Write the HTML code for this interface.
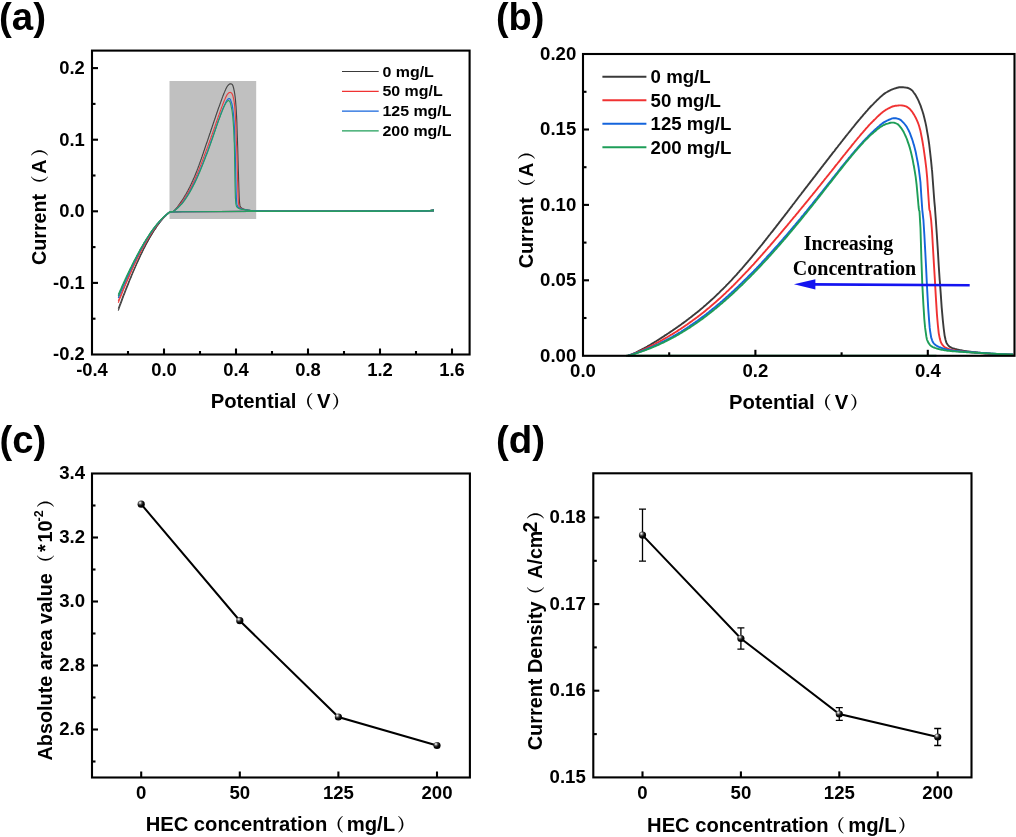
<!DOCTYPE html>
<html lang="en"><head><meta charset="utf-8"><title>Figure</title>
<style>
html,body{margin:0;padding:0;background:#fff}
svg{display:block}
text{white-space:pre}
.p{font-family:"Noto Serif CJK SC","Noto Sans CJK SC",serif;font-weight:700}
</style></head><body>
<svg width="1016" height="837" viewBox="0 0 1016 837">
<defs><radialGradient id="sph" cx="0.35" cy="0.3" r="0.7"><stop offset="0" stop-color="#f4f4f4"/><stop offset="0.12" stop-color="#d0d0d0"/><stop offset="0.34" stop-color="#555"/><stop offset="0.62" stop-color="#080808"/><stop offset="1" stop-color="#000"/></radialGradient>
<clipPath id="clipb"><rect x="583" y="54" width="433" height="303"/></clipPath></defs>
<rect width="1016" height="837" fill="#fff"/>
<text transform="translate(-1.1 29.6) scale(0.975 1)" font-family="'Liberation Sans', 'Noto Sans CJK SC', sans-serif" font-weight="bold" font-size="39.5" text-anchor="start" fill="#000">(a)</text>
<text transform="translate(496.0 29.6) scale(0.96 1)" font-family="'Liberation Sans', 'Noto Sans CJK SC', sans-serif" font-weight="bold" font-size="39.5" text-anchor="start" fill="#000">(b)</text>
<text transform="translate(-0.5 452.6) scale(0.97 1)" font-family="'Liberation Sans', 'Noto Sans CJK SC', sans-serif" font-weight="bold" font-size="39.5" text-anchor="start" fill="#000">(c)</text>
<text transform="translate(496.0 452.7) scale(0.975 1)" font-family="'Liberation Sans', 'Noto Sans CJK SC', sans-serif" font-weight="bold" font-size="39.5" text-anchor="start" fill="#000">(d)</text>
<rect x="169.5" y="81" width="86.7" height="138" fill="#c0c0c0"/>
<path d="M118.3,310.6 L119.2,308.1 L120.1,305.5 L120.5,304.6 L121.1,303.0 L122.0,300.5 L122.7,298.6 L122.9,298.1 L123.8,295.6 L124.8,293.2 L124.9,292.7 L125.7,290.8 L126.6,288.4 L127.2,287.0 L127.6,286.1 L128.5,283.7 L129.4,281.4 L129.4,281.4 L130.3,279.1 L131.3,276.9 L131.6,276.0 L132.2,274.6 L133.1,272.4 L133.8,270.7 L134.0,270.2 L135.0,268.1 L135.9,265.9 L136.1,265.6 L136.8,263.8 L137.8,261.8 L138.3,260.6 L138.7,259.7 L139.6,257.7 L140.5,255.8 L140.5,255.7 L141.5,253.8 L142.4,251.9 L142.7,251.2 L143.3,250.0 L144.2,248.1 L145.0,246.7 L145.2,246.3 L146.1,244.5 L147.0,242.7 L147.2,242.5 L148.0,241.0 L148.9,239.3 L149.4,238.4 L149.8,237.7 L150.7,236.1 L151.6,234.6 L151.7,234.5 L152.6,233.0 L153.5,231.5 L153.8,231.0 L154.5,230.0 L155.4,228.6 L156.1,227.6 L156.3,227.2 L157.2,225.8 L158.2,224.5 L158.3,224.4 L159.1,223.3 L160.0,222.1 L160.5,221.4 L160.9,220.9 L161.9,219.7 L162.7,218.7 L162.8,218.6 L163.7,217.6 L164.7,216.6 L165.0,216.3 L165.6,215.6 L166.5,214.7 L167.2,214.1 L167.4,213.8 L168.4,212.9 L169.3,212.2 L169.4,212.2 L170.2,211.9 L171.1,211.7 L171.6,211.6 L172.1,211.5 L173.4,211.3 L173.6,211.1 L173.8,211.0 L174.0,210.8 L174.2,210.6 L174.4,210.4 L174.6,210.2 L174.7,210.1 L174.8,210.0 L175.0,209.8 L175.2,209.6 L175.4,209.4 L175.6,209.2 L175.8,208.9 L176.0,208.7 L176.0,208.7 L176.2,208.5 L176.4,208.2 L176.6,208.0 L176.8,207.7 L177.0,207.5 L177.2,207.2 L177.3,207.1 L177.4,206.9 L177.6,206.7 L177.8,206.4 L178.0,206.1 L178.2,205.9 L178.4,205.6 L178.6,205.3 L178.6,205.3 L178.8,205.0 L179.0,204.7 L179.2,204.5 L179.4,204.2 L179.6,203.9 L179.8,203.6 L179.9,203.5 L180.0,203.3 L180.2,203.0 L180.4,202.7 L180.6,202.4 L180.8,202.1 L181.0,201.8 L181.2,201.6 L181.3,201.5 L181.5,201.2 L181.7,200.9 L181.9,200.6 L182.1,200.3 L182.3,200.0 L182.5,199.7 L182.5,199.6 L182.7,199.4 L182.9,199.1 L183.1,198.7 L183.3,198.4 L183.5,198.1 L183.7,197.8 L183.8,197.5 L183.9,197.5 L184.1,197.1 L184.3,196.8 L184.5,196.5 L184.7,196.1 L184.9,195.8 L185.1,195.5 L185.1,195.4 L185.3,195.1 L185.5,194.8 L185.7,194.5 L185.9,194.1 L186.1,193.8 L186.3,193.4 L186.4,193.2 L186.5,193.1 L186.7,192.7 L186.9,192.4 L187.1,192.0 L187.3,191.6 L187.5,191.3 L187.7,190.9 L187.7,190.8 L187.9,190.5 L188.1,190.2 L188.3,189.8 L188.5,189.4 L188.7,189.0 L188.9,188.6 L189.1,188.4 L189.1,188.2 L189.3,187.8 L189.5,187.5 L189.7,187.1 L189.9,186.7 L190.1,186.2 L190.3,185.8 L190.4,185.8 L190.5,185.4 L190.7,185.0 L190.9,184.6 L191.1,184.2 L191.3,183.7 L191.5,183.3 L191.7,183.0 L191.7,182.9 L191.9,182.4 L192.1,182.0 L192.3,181.6 L192.5,181.1 L192.7,180.7 L192.9,180.2 L193.0,180.2 L193.1,179.8 L193.3,179.3 L193.5,178.8 L193.7,178.4 L194.0,177.9 L194.2,177.4 L194.3,177.1 L194.4,176.9 L194.6,176.5 L194.8,176.0 L195.0,175.5 L195.2,175.0 L195.4,174.5 L195.6,174.0 L195.6,174.0 L195.8,173.5 L196.0,173.0 L196.2,172.5 L196.4,172.0 L196.6,171.5 L196.8,171.0 L196.9,170.7 L197.0,170.4 L197.2,169.9 L197.4,169.4 L197.6,168.9 L197.8,168.3 L198.0,167.8 L198.2,167.3 L198.2,167.3 L198.4,166.7 L198.6,166.2 L198.8,165.7 L199.0,165.1 L199.2,164.6 L199.4,164.0 L199.5,163.7 L199.6,163.5 L199.8,162.9 L200.0,162.3 L200.2,161.8 L200.4,161.2 L200.6,160.7 L200.8,160.1 L200.8,160.1 L201.0,159.5 L201.2,159.0 L201.4,158.4 L201.6,157.8 L201.8,157.2 L202.0,156.7 L202.1,156.4 L202.2,156.1 L202.4,155.5 L202.6,154.9 L202.8,154.3 L203.0,153.8 L203.2,153.2 L203.4,152.6 L203.4,152.6 L203.6,152.0 L203.8,151.4 L204.0,150.8 L204.2,150.2 L204.4,149.7 L204.6,149.1 L204.7,148.8 L204.8,148.5 L205.0,147.9 L205.2,147.3 L205.4,146.7 L205.6,146.1 L205.8,145.5 L206.0,145.0 L206.0,144.9 L206.2,144.3 L206.4,143.7 L206.7,143.1 L206.9,142.5 L207.1,141.9 L207.3,141.3 L207.3,141.1 L207.5,140.7 L207.7,140.1 L207.9,139.5 L208.1,138.9 L208.3,138.3 L208.5,137.7 L208.6,137.2 L208.7,137.1 L208.9,136.5 L209.1,135.9 L209.3,135.3 L209.5,134.7 L209.7,134.1 L209.9,133.5 L209.9,133.4 L210.1,133.0 L210.3,132.4 L210.5,131.8 L210.7,131.2 L210.9,130.6 L211.1,130.0 L211.2,129.5 L211.3,129.4 L211.5,128.8 L211.7,128.2 L211.9,127.6 L212.1,127.0 L212.3,126.4 L212.5,125.8 L212.6,125.6 L212.7,125.2 L212.9,124.6 L213.1,124.0 L213.3,123.4 L213.5,122.8 L213.7,122.2 L213.9,121.8 L213.9,121.6 L214.1,121.0 L214.3,120.4 L214.5,119.9 L214.7,119.3 L214.9,118.7 L215.1,118.1 L215.2,118.0 L215.3,117.5 L215.5,116.9 L215.7,116.3 L215.9,115.7 L216.1,115.1 L216.3,114.5 L216.5,114.1 L216.5,114.0 L216.7,113.4 L216.9,112.8 L217.1,112.2 L217.3,111.6 L217.5,111.0 L217.7,110.4 L217.8,110.3 L217.9,109.9 L218.1,109.3 L218.3,108.7 L218.5,108.1 L218.7,107.5 L218.9,106.9 L219.1,106.6 L219.2,106.4 L219.4,105.8 L219.6,105.2 L219.8,104.6 L220.0,104.1 L220.2,103.5 L220.4,102.9 L220.4,102.9 L220.6,102.4 L220.8,101.8 L221.0,101.3 L221.2,100.7 L221.4,100.1 L221.6,99.6 L221.7,99.3 L221.8,99.0 L222.0,98.5 L222.2,97.9 L222.4,97.4 L222.6,96.9 L222.8,96.3 L223.0,95.8 L223.0,95.8 L223.2,95.3 L223.4,94.8 L223.6,94.2 L223.8,93.7 L224.0,93.2 L224.2,92.8 L224.3,92.5 L224.4,92.3 L224.6,91.8 L224.8,91.4 L225.0,90.9 L225.2,90.4 L225.4,90.0 L225.6,89.5 L225.8,89.1 L226.0,88.7 L226.2,88.3 L226.4,87.9 L226.6,87.5 L226.8,87.1 L227.0,86.8 L227.2,86.5 L227.4,86.2 L227.5,86.1 L227.6,85.9 L227.8,85.7 L228.0,85.4 L228.2,85.2 L228.4,85.0 L228.6,84.8 L228.8,84.6 L229.0,84.5 L229.1,84.5 L229.2,84.3 L229.4,84.2 L229.6,84.1 L229.8,83.9 L230.0,83.9 L230.2,83.8 L230.3,83.8 L230.4,83.8 L230.6,83.8 L230.8,83.9 L231.0,83.9 L231.2,83.9 L231.4,84.0 L231.5,84.0 L231.6,84.1 L231.9,84.2 L232.1,84.4 L232.3,84.6 L232.5,84.9 L232.5,84.9 L232.7,85.2 L232.9,85.7 L233.1,86.3 L233.3,87.0 L233.3,87.0 L233.5,87.7 L233.7,88.5 L233.9,89.3 L233.9,89.7 L234.1,90.3 L234.3,91.3 L234.5,92.5 L234.7,93.7 L234.9,95.1 L235.1,96.5 L235.1,96.6 L235.3,98.3 L235.5,100.3 L235.7,102.5 L235.9,105.0 L236.1,107.4 L236.1,107.7 L236.3,110.9 L236.5,114.7 L236.7,118.9 L236.9,122.8 L236.9,123.6 L237.1,129.5 L237.3,135.8 L237.4,138.3 L237.5,141.2 L237.5,142.1 L237.7,147.4 L237.9,154.4 L238.1,161.8 L238.3,169.1 L238.5,175.4 L238.5,175.9 L238.7,182.3 L238.9,188.5 L239.1,193.8 L239.1,194.4 L239.3,198.4 L239.5,201.7 L239.5,201.7 L239.7,203.8 L239.9,205.2 L239.9,205.3 L240.1,206.0 L240.3,206.5 L240.5,207.0 L240.6,207.1 L240.7,207.2 L240.9,207.5 L241.1,207.7 L241.3,207.8 L241.5,208.0 L241.5,208.0 L241.7,208.1 L241.9,208.2 L242.1,208.3 L242.3,208.4 L242.5,208.6 L242.7,208.7 L242.9,208.8 L243.1,208.8 L243.3,208.9 L243.5,209.0 L243.7,209.1 L243.9,209.2 L244.1,209.2 L244.4,209.3 L244.5,209.3 L244.6,209.3 L244.8,209.4 L245.0,209.4 L245.2,209.5 L245.4,209.5 L245.6,209.6 L245.8,209.6 L246.0,209.7 L246.2,209.7 L246.4,209.8 L246.6,209.8 L246.8,209.9 L247.0,209.9 L247.2,209.9 L247.4,210.0 L247.6,210.0 L247.8,210.1 L248.0,210.1 L248.2,210.2 L248.4,210.2 L248.6,210.2 L248.8,210.3 L249.0,210.3 L249.2,210.3 L249.4,210.4 L249.6,210.4 L249.8,210.4 L250.0,210.5 L250.2,210.5 L250.4,210.5 L250.6,210.6 L250.8,210.6 L251.0,210.6 L251.2,210.6 L251.4,210.6 L251.6,210.7 L251.8,210.7 L252.0,210.7 L252.2,210.7 L252.4,210.7 L252.6,210.7 L252.8,210.7 L253.0,210.8 L253.2,210.8 L253.4,210.8 L253.6,210.8 L253.8,210.8 L272.0,211.0 L326.0,211.1 L380.0,211.1 L416.0,211.0 L428.6,210.7 L434.0,209.9" stroke="#454545" stroke-width="1.15" fill="none" stroke-linejoin="round"/>
<path d="M434.0,210.9 L344.0,211.3 L254.0,211.3 L182.0,211.7 L173.0,212.0 L172.1,211.9 L171.6,212.0 L171.1,212.1 L170.2,212.3 L169.4,212.6 L169.3,212.6 L168.4,213.3 L167.4,214.2 L167.2,214.4 L166.5,215.1 L165.6,216.0 L165.0,216.6 L164.7,216.9 L163.7,217.9 L162.8,218.9 L162.7,219.0 L161.9,220.0 L160.9,221.1 L160.5,221.6 L160.0,222.2 L159.1,223.4 L158.3,224.5 L158.2,224.6 L157.2,225.9 L156.3,227.2 L156.1,227.6 L155.4,228.6 L154.5,230.0 L153.8,230.9 L153.5,231.4 L152.6,232.9 L151.7,234.4 L151.6,234.4 L150.7,235.9 L149.8,237.5 L149.4,238.2 L148.9,239.1 L148.0,240.7 L147.2,242.1 L147.0,242.4 L146.1,244.1 L145.2,245.8 L145.0,246.3 L144.2,247.6 L143.3,249.4 L142.7,250.6 L142.4,251.3 L141.5,253.1 L140.5,255.0 L140.5,255.1 L139.6,257.0 L138.7,258.9 L138.3,259.8 L137.8,260.9 L136.8,263.0 L136.1,264.6 L135.9,265.0 L135.0,267.1 L134.0,269.2 L133.8,269.7 L133.1,271.3 L132.2,273.5 L131.6,274.8 L131.3,275.6 L130.3,277.9 L129.4,280.1 L129.4,280.1 L128.5,282.3 L127.6,284.6 L127.2,285.6 L126.6,286.9 L125.7,289.2 L124.9,291.1 L124.8,291.6 L123.8,294.0 L122.9,296.3 L122.7,296.8 L122.0,298.7 L121.1,301.2 L120.5,302.6 L120.1,303.6 L119.2,306.1 L118.3,308.6" stroke="#454545" stroke-width="1.15" fill="none" stroke-linejoin="round"/>
<path d="M118.3,302.7 L119.2,300.4 L120.1,298.1 L120.5,297.2 L121.1,295.8 L122.0,293.5 L122.7,291.7 L122.9,291.2 L123.8,288.9 L124.8,286.7 L124.9,286.3 L125.7,284.5 L126.6,282.3 L127.2,281.0 L127.6,280.1 L128.5,278.0 L129.4,275.9 L129.4,275.8 L130.3,273.7 L131.3,271.7 L131.6,270.9 L132.2,269.6 L133.1,267.6 L133.8,266.0 L134.0,265.5 L135.0,263.6 L135.9,261.6 L136.1,261.3 L136.8,259.7 L137.8,257.8 L138.3,256.7 L138.7,255.9 L139.6,254.0 L140.5,252.3 L140.5,252.2 L141.5,250.4 L142.4,248.6 L142.7,248.0 L143.3,246.9 L144.2,245.2 L145.0,243.9 L145.2,243.5 L146.1,241.9 L147.0,240.3 L147.2,240.0 L148.0,238.7 L148.9,237.1 L149.4,236.3 L149.8,235.6 L150.7,234.1 L151.6,232.8 L151.7,232.7 L152.6,231.3 L153.5,229.9 L153.8,229.4 L154.5,228.5 L155.4,227.2 L156.1,226.3 L156.3,226.0 L157.2,224.7 L158.2,223.5 L158.3,223.4 L159.1,222.4 L160.0,221.3 L160.5,220.7 L160.9,220.2 L161.9,219.1 L162.7,218.2 L162.8,218.1 L163.7,217.2 L164.7,216.3 L165.0,216.0 L165.6,215.4 L166.5,214.5 L167.2,213.9 L167.4,213.7 L168.4,212.8 L169.3,212.2 L169.4,212.1 L170.2,211.9 L171.1,211.7 L171.6,211.6 L172.1,211.5 L173.4,211.3 L173.6,211.2 L173.8,211.0 L174.0,210.9 L174.2,210.7 L174.4,210.5 L174.6,210.4 L174.7,210.3 L174.8,210.2 L175.0,210.0 L175.2,209.8 L175.4,209.6 L175.6,209.4 L175.8,209.3 L176.0,209.1 L176.0,209.1 L176.2,208.9 L176.4,208.6 L176.6,208.4 L176.8,208.2 L177.0,208.0 L177.2,207.8 L177.3,207.7 L177.4,207.6 L177.6,207.4 L177.8,207.1 L178.0,206.9 L178.2,206.7 L178.4,206.4 L178.6,206.2 L178.6,206.2 L178.8,206.0 L179.0,205.7 L179.2,205.5 L179.4,205.2 L179.6,205.0 L179.8,204.7 L179.9,204.6 L180.0,204.5 L180.2,204.2 L180.4,204.0 L180.6,203.7 L180.8,203.5 L181.0,203.2 L181.2,203.0 L181.3,202.9 L181.5,202.7 L181.7,202.4 L181.9,202.1 L182.1,201.9 L182.3,201.6 L182.5,201.3 L182.5,201.2 L182.7,201.0 L182.9,200.7 L183.1,200.5 L183.3,200.2 L183.5,199.9 L183.7,199.6 L183.8,199.4 L183.9,199.3 L184.1,199.0 L184.3,198.7 L184.5,198.4 L184.7,198.1 L184.9,197.8 L185.1,197.5 L185.1,197.4 L185.3,197.2 L185.5,196.9 L185.7,196.6 L185.9,196.2 L186.1,195.9 L186.3,195.6 L186.4,195.4 L186.5,195.3 L186.7,194.9 L186.9,194.6 L187.1,194.3 L187.3,193.9 L187.5,193.6 L187.7,193.3 L187.7,193.2 L187.9,192.9 L188.1,192.6 L188.3,192.2 L188.5,191.9 L188.7,191.5 L188.9,191.1 L189.1,190.9 L189.1,190.8 L189.3,190.4 L189.5,190.0 L189.7,189.7 L189.9,189.3 L190.1,188.9 L190.3,188.5 L190.4,188.5 L190.5,188.1 L190.7,187.7 L190.9,187.4 L191.1,187.0 L191.3,186.6 L191.5,186.2 L191.7,185.9 L191.7,185.8 L191.9,185.4 L192.1,184.9 L192.3,184.5 L192.5,184.1 L192.7,183.7 L192.9,183.3 L193.0,183.2 L193.1,182.9 L193.3,182.4 L193.5,182.0 L193.7,181.6 L194.0,181.1 L194.2,180.7 L194.3,180.4 L194.4,180.3 L194.6,179.8 L194.8,179.4 L195.0,178.9 L195.2,178.5 L195.4,178.0 L195.6,177.6 L195.6,177.5 L195.8,177.1 L196.0,176.6 L196.2,176.2 L196.4,175.7 L196.6,175.2 L196.8,174.8 L196.9,174.5 L197.0,174.3 L197.2,173.8 L197.4,173.3 L197.6,172.8 L197.8,172.4 L198.0,171.9 L198.2,171.4 L198.2,171.4 L198.4,170.9 L198.6,170.4 L198.8,169.9 L199.0,169.4 L199.2,168.9 L199.4,168.4 L199.5,168.2 L199.6,167.9 L199.8,167.4 L200.0,166.9 L200.2,166.4 L200.4,165.9 L200.6,165.4 L200.8,164.9 L200.8,164.9 L201.0,164.3 L201.2,163.8 L201.4,163.3 L201.6,162.8 L201.8,162.3 L202.0,161.7 L202.1,161.5 L202.2,161.2 L202.4,160.7 L202.6,160.2 L202.8,159.6 L203.0,159.1 L203.2,158.6 L203.4,158.1 L203.4,158.0 L203.6,157.5 L203.8,157.0 L204.0,156.4 L204.2,155.9 L204.4,155.4 L204.6,154.8 L204.7,154.6 L204.8,154.3 L205.0,153.8 L205.2,153.2 L205.4,152.7 L205.6,152.1 L205.8,151.6 L206.0,151.1 L206.0,151.0 L206.2,150.5 L206.4,149.9 L206.7,149.4 L206.9,148.9 L207.1,148.3 L207.3,147.8 L207.3,147.6 L207.5,147.2 L207.7,146.7 L207.9,146.1 L208.1,145.5 L208.3,145.0 L208.5,144.4 L208.6,144.0 L208.7,143.9 L208.9,143.3 L209.1,142.8 L209.3,142.2 L209.5,141.7 L209.7,141.1 L209.9,140.5 L209.9,140.4 L210.1,140.0 L210.3,139.4 L210.5,138.9 L210.7,138.3 L210.9,137.7 L211.1,137.2 L211.2,136.7 L211.3,136.6 L211.5,136.1 L211.7,135.5 L211.9,134.9 L212.1,134.4 L212.3,133.8 L212.5,133.2 L212.6,133.1 L212.7,132.7 L212.9,132.1 L213.1,131.5 L213.3,130.9 L213.5,130.4 L213.7,129.8 L213.9,129.4 L213.9,129.2 L214.1,128.7 L214.3,128.1 L214.5,127.5 L214.7,126.9 L214.9,126.4 L215.1,125.8 L215.2,125.7 L215.3,125.2 L215.5,124.7 L215.7,124.1 L215.9,123.5 L216.1,122.9 L216.3,122.3 L216.5,121.9 L216.5,121.8 L216.7,121.2 L216.9,120.6 L217.1,120.0 L217.3,119.5 L217.5,118.9 L217.7,118.3 L217.8,118.2 L217.9,117.7 L218.1,117.2 L218.3,116.6 L218.5,116.0 L218.7,115.4 L218.9,114.9 L219.1,114.5 L219.2,114.3 L219.4,113.7 L219.6,113.1 L219.8,112.6 L220.0,112.0 L220.2,111.4 L220.4,110.9 L220.4,110.8 L220.6,110.3 L220.8,109.8 L221.0,109.2 L221.2,108.6 L221.4,108.1 L221.6,107.5 L221.7,107.2 L221.8,107.0 L222.0,106.4 L222.2,105.9 L222.4,105.4 L222.6,104.8 L222.8,104.3 L223.0,103.8 L223.0,103.8 L223.2,103.3 L223.4,102.8 L223.6,102.2 L223.8,101.7 L224.0,101.2 L224.2,100.8 L224.3,100.5 L224.4,100.3 L224.6,99.9 L224.8,99.4 L225.0,98.9 L225.2,98.5 L225.4,98.0 L225.6,97.6 L225.8,97.2 L226.0,96.8 L226.2,96.4 L226.4,96.0 L226.6,95.6 L226.8,95.2 L227.0,94.9 L227.2,94.6 L227.4,94.3 L227.5,94.2 L227.6,94.1 L227.8,93.8 L228.0,93.6 L228.2,93.4 L228.4,93.2 L228.6,93.0 L228.8,92.8 L229.0,92.7 L229.1,92.7 L229.2,92.7 L229.4,92.6 L229.6,92.5 L229.8,92.5 L230.0,92.4 L230.2,92.4 L230.3,92.4 L230.4,92.4 L230.6,92.5 L230.8,92.6 L231.0,92.7 L231.2,92.8 L231.3,92.8 L231.4,92.9 L231.6,93.2 L231.9,93.5 L232.1,93.8 L232.3,94.2 L232.3,94.2 L232.5,94.7 L232.7,95.3 L232.9,95.9 L233.1,96.7 L233.1,96.7 L233.3,97.5 L233.5,98.3 L233.7,99.2 L233.9,100.3 L234.1,101.5 L234.3,102.9 L234.3,102.9 L234.5,104.6 L234.7,106.8 L234.9,109.4 L235.1,111.9 L235.1,112.1 L235.3,115.1 L235.5,118.5 L235.7,122.4 L235.9,126.5 L235.9,127.0 L236.1,134.3 L236.3,141.1 L236.4,142.1 L236.5,142.8 L236.5,143.1 L236.7,146.8 L236.9,152.8 L237.1,160.4 L237.3,168.5 L237.5,176.2 L237.5,177.4 L237.7,183.8 L237.9,191.4 L238.0,193.1 L238.1,197.0 L238.3,200.4 L238.3,200.8 L238.5,203.2 L238.7,204.7 L238.7,204.7 L238.9,205.6 L239.1,206.3 L239.3,206.8 L239.3,206.8 L239.5,207.2 L239.7,207.5 L239.9,207.7 L239.9,207.7 L240.1,207.9 L240.3,208.0 L240.5,208.2 L240.7,208.3 L240.9,208.4 L241.1,208.5 L241.3,208.6 L241.5,208.7 L241.7,208.8 L241.9,208.9 L242.1,209.0 L242.3,209.0 L242.5,209.1 L242.7,209.2 L242.9,209.2 L242.9,209.2 L243.1,209.3 L243.3,209.3 L243.5,209.4 L243.7,209.4 L243.9,209.4 L244.1,209.5 L244.4,209.5 L244.6,209.6 L244.8,209.6 L245.0,209.7 L245.2,209.7 L245.4,209.8 L245.6,209.8 L245.8,209.8 L246.0,209.9 L246.2,209.9 L246.4,210.0 L246.6,210.0 L246.8,210.0 L247.0,210.1 L247.2,210.1 L247.4,210.2 L247.6,210.2 L247.8,210.2 L248.0,210.3 L248.2,210.3 L248.4,210.3 L248.6,210.4 L248.8,210.4 L249.0,210.4 L249.2,210.4 L249.4,210.5 L249.6,210.5 L249.8,210.5 L250.0,210.5 L250.2,210.6 L250.4,210.6 L250.6,210.6 L250.8,210.6 L251.0,210.6 L251.2,210.7 L251.4,210.7 L251.6,210.7 L251.8,210.7 L252.0,210.7 L252.2,210.7 L252.4,210.7 L252.6,210.7 L252.8,210.7 L253.0,210.8 L253.2,210.8 L253.4,210.8 L253.6,210.8 L253.8,210.8 L272.0,211.0 L326.0,211.1 L380.0,211.1 L416.0,211.0 L428.6,210.7 L434.0,209.9" stroke="#e84040" stroke-width="1.15" fill="none" stroke-linejoin="round"/>
<path d="M434.0,210.9 L344.0,211.3 L254.0,211.3 L182.0,211.7 L173.0,212.0 L172.1,211.9 L171.6,212.0 L171.1,212.1 L170.2,212.3 L169.4,212.5 L169.3,212.6 L168.4,213.2 L167.4,214.1 L167.2,214.3 L166.5,214.9 L165.6,215.7 L165.0,216.3 L164.7,216.6 L163.7,217.5 L162.8,218.4 L162.7,218.5 L161.9,219.4 L160.9,220.4 L160.5,220.9 L160.0,221.4 L159.1,222.5 L158.3,223.5 L158.2,223.7 L157.2,224.8 L156.3,226.0 L156.1,226.3 L155.4,227.3 L154.5,228.5 L153.8,229.4 L153.5,229.8 L152.6,231.2 L151.7,232.6 L151.6,232.6 L150.7,234.0 L149.8,235.4 L149.4,236.1 L148.9,236.9 L148.0,238.4 L147.2,239.7 L147.0,240.0 L146.1,241.5 L145.2,243.1 L145.0,243.5 L144.2,244.8 L143.3,246.4 L142.7,247.5 L142.4,248.1 L141.5,249.9 L140.5,251.6 L140.5,251.7 L139.6,253.4 L138.7,255.2 L138.3,256.0 L137.8,257.0 L136.8,258.9 L136.1,260.4 L135.9,260.8 L135.0,262.7 L134.0,264.6 L133.8,265.1 L133.1,266.6 L132.2,268.6 L131.6,269.8 L131.3,270.6 L130.3,272.6 L129.4,274.7 L129.4,274.7 L128.5,276.7 L127.6,278.8 L127.2,279.7 L126.6,280.9 L125.7,283.1 L124.9,284.8 L124.8,285.2 L123.8,287.4 L122.9,289.6 L122.7,290.1 L122.0,291.8 L121.1,294.1 L120.5,295.4 L120.1,296.3 L119.2,298.6 L118.3,300.9" stroke="#e84040" stroke-width="1.15" fill="none" stroke-linejoin="round"/>
<path d="M118.3,298.0 L119.2,295.8 L120.1,293.6 L120.5,292.7 L121.1,291.4 L122.0,289.2 L122.7,287.5 L122.9,287.1 L123.8,284.9 L124.8,282.8 L124.9,282.4 L125.7,280.7 L126.6,278.6 L127.2,277.4 L127.6,276.6 L128.5,274.5 L129.4,272.5 L129.4,272.5 L130.3,270.5 L131.3,268.5 L131.6,267.8 L132.2,266.6 L133.1,264.6 L133.8,263.2 L134.0,262.7 L135.0,260.9 L135.9,259.0 L136.1,258.7 L136.8,257.2 L137.8,255.4 L138.3,254.3 L138.7,253.6 L139.6,251.8 L140.5,250.1 L140.5,250.1 L141.5,248.4 L142.4,246.7 L142.7,246.1 L143.3,245.1 L144.2,243.4 L145.0,242.2 L145.2,241.9 L146.1,240.3 L147.0,238.8 L147.2,238.5 L148.0,237.3 L148.9,235.8 L149.4,235.0 L149.8,234.4 L150.7,233.0 L151.6,231.7 L151.7,231.6 L152.6,230.2 L153.5,228.9 L153.8,228.5 L154.5,227.7 L155.4,226.4 L156.1,225.5 L156.3,225.2 L157.2,224.1 L158.2,222.9 L158.3,222.8 L159.1,221.8 L160.0,220.8 L160.5,220.2 L160.9,219.8 L161.9,218.8 L162.7,217.9 L162.8,217.8 L163.7,216.9 L164.7,216.0 L165.0,215.8 L165.6,215.2 L166.5,214.4 L167.2,213.8 L167.4,213.6 L168.4,212.8 L169.3,212.1 L169.4,212.1 L170.2,211.9 L171.1,211.7 L171.6,211.6 L172.1,211.5 L173.4,211.3 L173.6,211.2 L173.8,211.0 L174.0,210.9 L174.2,210.7 L174.4,210.6 L174.6,210.4 L174.7,210.4 L174.8,210.3 L175.0,210.1 L175.2,210.0 L175.4,209.8 L175.6,209.6 L175.8,209.5 L176.0,209.3 L176.0,209.3 L176.2,209.1 L176.4,209.0 L176.6,208.8 L176.8,208.6 L177.0,208.4 L177.2,208.3 L177.3,208.2 L177.4,208.1 L177.6,207.9 L177.8,207.7 L178.0,207.5 L178.2,207.3 L178.4,207.1 L178.6,206.9 L178.6,206.9 L178.8,206.7 L179.0,206.5 L179.2,206.3 L179.4,206.1 L179.6,205.9 L179.8,205.7 L179.9,205.6 L180.0,205.4 L180.2,205.2 L180.4,205.0 L180.6,204.8 L180.8,204.5 L181.0,204.3 L181.2,204.1 L181.3,204.1 L181.5,203.8 L181.7,203.6 L181.9,203.3 L182.1,203.1 L182.3,202.8 L182.5,202.6 L182.5,202.5 L182.7,202.3 L182.9,202.1 L183.1,201.8 L183.3,201.5 L183.5,201.3 L183.7,201.0 L183.8,200.8 L183.9,200.7 L184.1,200.5 L184.3,200.2 L184.5,199.9 L184.7,199.6 L184.9,199.3 L185.1,199.0 L185.1,198.9 L185.3,198.7 L185.5,198.4 L185.7,198.1 L185.9,197.8 L186.1,197.5 L186.3,197.2 L186.4,197.0 L186.5,196.9 L186.7,196.6 L186.9,196.3 L187.1,196.0 L187.3,195.6 L187.5,195.3 L187.7,195.0 L187.7,194.9 L187.9,194.7 L188.1,194.3 L188.3,194.0 L188.5,193.7 L188.7,193.3 L188.9,193.0 L189.1,192.7 L189.1,192.6 L189.3,192.3 L189.5,191.9 L189.7,191.6 L189.9,191.2 L190.1,190.9 L190.3,190.5 L190.4,190.4 L190.5,190.1 L190.7,189.8 L190.9,189.4 L191.1,189.0 L191.3,188.7 L191.5,188.3 L191.7,188.0 L191.7,187.9 L191.9,187.5 L192.1,187.1 L192.3,186.7 L192.5,186.4 L192.7,186.0 L192.9,185.6 L193.0,185.5 L193.1,185.2 L193.3,184.8 L193.5,184.4 L193.7,184.0 L194.0,183.6 L194.2,183.1 L194.3,182.9 L194.4,182.7 L194.6,182.3 L194.8,181.9 L195.0,181.5 L195.2,181.1 L195.4,180.6 L195.6,180.2 L195.6,180.2 L195.8,179.8 L196.0,179.4 L196.2,178.9 L196.4,178.5 L196.6,178.0 L196.8,177.6 L196.9,177.4 L197.0,177.2 L197.2,176.7 L197.4,176.3 L197.6,175.8 L197.8,175.4 L198.0,174.9 L198.2,174.5 L198.2,174.5 L198.4,174.0 L198.6,173.6 L198.8,173.1 L199.0,172.6 L199.2,172.2 L199.4,171.7 L199.5,171.5 L199.6,171.2 L199.8,170.8 L200.0,170.3 L200.2,169.8 L200.4,169.3 L200.6,168.9 L200.8,168.4 L200.8,168.4 L201.0,167.9 L201.2,167.4 L201.4,166.9 L201.6,166.4 L201.8,165.9 L202.0,165.4 L202.1,165.2 L202.2,165.0 L202.4,164.5 L202.6,164.0 L202.8,163.5 L203.0,163.0 L203.2,162.4 L203.4,162.0 L203.4,161.9 L203.6,161.4 L203.8,160.9 L204.0,160.4 L204.2,159.9 L204.4,159.4 L204.6,158.9 L204.7,158.7 L204.8,158.3 L205.0,157.8 L205.2,157.3 L205.4,156.8 L205.6,156.3 L205.8,155.7 L206.0,155.3 L206.0,155.2 L206.2,154.7 L206.4,154.1 L206.7,153.6 L206.9,153.1 L207.1,152.5 L207.3,152.0 L207.3,151.8 L207.5,151.4 L207.7,150.9 L207.9,150.4 L208.1,149.8 L208.3,149.3 L208.5,148.7 L208.6,148.3 L208.7,148.2 L208.9,147.6 L209.1,147.1 L209.3,146.5 L209.5,146.0 L209.7,145.4 L209.9,144.8 L209.9,144.7 L210.1,144.3 L210.3,143.7 L210.5,143.2 L210.7,142.6 L210.9,142.0 L211.1,141.5 L211.2,141.0 L211.3,140.9 L211.5,140.3 L211.7,139.8 L211.9,139.2 L212.1,138.6 L212.3,138.1 L212.5,137.5 L212.6,137.3 L212.7,136.9 L212.9,136.3 L213.1,135.8 L213.3,135.2 L213.5,134.6 L213.7,134.0 L213.9,133.6 L213.9,133.5 L214.1,132.9 L214.3,132.3 L214.5,131.7 L214.7,131.1 L214.9,130.6 L215.1,130.0 L215.2,129.9 L215.3,129.4 L215.5,128.8 L215.7,128.2 L215.9,127.7 L216.1,127.1 L216.3,126.5 L216.5,126.1 L216.5,125.9 L216.7,125.4 L216.9,124.8 L217.1,124.2 L217.3,123.6 L217.5,123.1 L217.7,122.5 L217.8,122.4 L217.9,121.9 L218.1,121.3 L218.3,120.8 L218.5,120.2 L218.7,119.6 L218.9,119.1 L219.1,118.7 L219.2,118.5 L219.4,118.0 L219.6,117.4 L219.8,116.8 L220.0,116.3 L220.2,115.7 L220.4,115.2 L220.4,115.1 L220.6,114.7 L220.8,114.1 L221.0,113.6 L221.2,113.0 L221.4,112.5 L221.6,112.0 L221.7,111.7 L221.8,111.5 L222.0,111.0 L222.2,110.5 L222.4,109.9 L222.6,109.4 L222.8,108.9 L223.0,108.5 L223.0,108.4 L223.2,108.0 L223.4,107.5 L223.6,107.0 L223.8,106.5 L224.0,106.1 L224.2,105.7 L224.3,105.4 L224.4,105.2 L224.6,104.8 L224.8,104.4 L225.0,104.0 L225.2,103.5 L225.4,103.1 L225.6,102.7 L225.8,102.3 L226.0,101.9 L226.2,101.5 L226.4,101.2 L226.6,100.9 L226.8,100.5 L227.0,100.3 L227.2,100.0 L227.4,99.8 L227.5,99.7 L227.6,99.6 L227.8,99.3 L228.0,99.1 L228.2,99.0 L228.4,98.8 L228.6,98.7 L228.8,98.6 L229.0,98.5 L229.1,98.5 L229.2,98.5 L229.4,98.6 L229.6,98.7 L229.8,98.9 L230.0,99.0 L230.1,99.1 L230.2,99.2 L230.4,99.6 L230.6,100.0 L230.8,100.5 L231.0,101.0 L231.1,101.1 L231.2,101.5 L231.4,102.2 L231.6,102.9 L231.9,103.7 L231.9,103.8 L232.1,104.6 L232.3,105.6 L232.5,106.8 L232.7,108.1 L232.9,109.5 L233.1,111.0 L233.1,111.0 L233.3,112.6 L233.5,114.6 L233.7,116.7 L233.9,119.2 L233.9,119.2 L234.1,121.9 L234.3,125.2 L234.5,129.2 L234.5,129.3 L234.7,136.0 L234.9,142.1 L234.9,142.6 L235.1,146.4 L235.1,146.7 L235.3,153.5 L235.5,162.2 L235.7,171.4 L235.8,177.4 L235.9,180.1 L236.1,188.8 L236.1,190.7 L236.3,195.2 L236.4,198.0 L236.5,199.6 L236.7,202.5 L236.7,202.9 L236.9,204.0 L237.1,204.9 L237.2,205.3 L237.3,205.5 L237.5,206.0 L237.7,206.4 L237.8,206.5 L237.9,206.6 L238.1,206.9 L238.3,207.1 L238.5,207.3 L238.7,207.5 L238.9,207.6 L239.1,207.8 L239.3,208.0 L239.5,208.1 L239.7,208.2 L239.9,208.3 L240.1,208.4 L240.3,208.5 L240.5,208.6 L240.7,208.7 L240.7,208.7 L240.9,208.8 L241.1,208.8 L241.3,208.9 L241.5,209.0 L241.7,209.0 L241.9,209.1 L242.1,209.1 L242.3,209.2 L242.5,209.2 L242.7,209.2 L242.9,209.3 L243.1,209.3 L243.3,209.4 L243.5,209.4 L243.7,209.4 L243.9,209.5 L244.1,209.5 L244.4,209.5 L244.5,209.6 L244.6,209.6 L244.8,209.6 L245.0,209.6 L245.2,209.7 L245.4,209.7 L245.6,209.7 L245.8,209.8 L246.0,209.8 L246.2,209.8 L246.4,209.9 L246.6,209.9 L246.8,209.9 L247.0,210.0 L247.2,210.0 L247.4,210.0 L247.6,210.1 L247.8,210.1 L248.0,210.1 L248.2,210.2 L248.4,210.2 L248.6,210.2 L248.8,210.2 L249.0,210.3 L249.2,210.3 L249.4,210.3 L249.6,210.3 L249.8,210.4 L250.0,210.4 L250.2,210.4 L250.4,210.4 L250.6,210.5 L250.8,210.5 L251.0,210.5 L251.2,210.5 L251.4,210.6 L251.6,210.6 L251.8,210.6 L252.0,210.6 L252.2,210.6 L252.4,210.7 L252.6,210.7 L252.8,210.7 L253.0,210.7 L253.2,210.7 L253.4,210.7 L253.6,210.8 L253.8,210.8 L272.0,211.0 L326.0,211.1 L380.0,211.1 L416.0,211.0 L428.6,210.7 L434.0,209.9" stroke="#2068d8" stroke-width="1.15" fill="none" stroke-linejoin="round"/>
<path d="M434.0,210.9 L344.0,211.3 L254.0,211.3 L182.0,211.7 L173.0,212.0 L172.1,211.9 L171.6,212.0 L171.1,212.1 L170.2,212.3 L169.4,212.5 L169.3,212.6 L168.4,213.2 L167.4,214.0 L167.2,214.2 L166.5,214.8 L165.6,215.5 L165.0,216.1 L164.7,216.4 L163.7,217.2 L162.8,218.1 L162.7,218.2 L161.9,219.0 L160.9,220.0 L160.5,220.4 L160.0,221.0 L159.1,222.0 L158.3,222.9 L158.2,223.1 L157.2,224.2 L156.3,225.3 L156.1,225.6 L155.4,226.5 L154.5,227.7 L153.8,228.5 L153.5,228.9 L152.6,230.2 L151.7,231.5 L151.6,231.6 L150.7,232.8 L149.8,234.2 L149.4,234.8 L148.9,235.6 L148.0,237.0 L147.2,238.3 L147.0,238.5 L146.1,240.0 L145.2,241.5 L145.0,241.9 L144.2,243.1 L143.3,244.6 L142.7,245.7 L142.4,246.3 L141.5,247.9 L140.5,249.5 L140.5,249.6 L139.6,251.2 L138.7,252.9 L138.3,253.7 L137.8,254.7 L136.8,256.4 L136.1,257.9 L135.9,258.2 L135.0,260.0 L134.0,261.9 L133.8,262.3 L133.1,263.7 L132.2,265.6 L131.6,266.8 L131.3,267.5 L130.3,269.5 L129.4,271.4 L129.4,271.4 L128.5,273.4 L127.6,275.4 L127.2,276.2 L126.6,277.4 L125.7,279.4 L124.9,281.1 L124.8,281.4 L123.8,283.5 L122.9,285.6 L122.7,286.0 L122.0,287.7 L121.1,289.8 L120.5,291.1 L120.1,292.0 L119.2,294.1 L118.3,296.3" stroke="#2068d8" stroke-width="1.15" fill="none" stroke-linejoin="round"/>
<path d="M118.3,296.2 L119.2,294.0 L120.1,291.9 L120.5,291.0 L121.1,289.7 L122.0,287.6 L122.7,285.9 L122.9,285.5 L123.8,283.4 L124.8,281.3 L124.9,280.9 L125.7,279.3 L126.6,277.2 L127.2,276.0 L127.6,275.2 L128.5,273.2 L129.4,271.3 L129.4,271.2 L130.3,269.3 L131.3,267.3 L131.6,266.6 L132.2,265.4 L133.1,263.5 L133.8,262.1 L134.0,261.7 L135.0,259.8 L135.9,258.0 L136.1,257.7 L136.8,256.2 L137.8,254.4 L138.3,253.5 L138.7,252.7 L139.6,251.0 L140.5,249.3 L140.5,249.3 L141.5,247.6 L142.4,246.0 L142.7,245.4 L143.3,244.4 L144.2,242.8 L145.0,241.6 L145.2,241.2 L146.1,239.7 L147.0,238.2 L147.2,238.0 L148.0,236.7 L148.9,235.3 L149.4,234.5 L149.8,233.9 L150.7,232.5 L151.6,231.2 L151.7,231.2 L152.6,229.9 L153.5,228.6 L153.8,228.1 L154.5,227.3 L155.4,226.1 L156.1,225.3 L156.3,224.9 L157.2,223.8 L158.2,222.7 L158.3,222.6 L159.1,221.6 L160.0,220.6 L160.5,220.1 L160.9,219.6 L161.9,218.6 L162.7,217.8 L162.8,217.7 L163.7,216.8 L164.7,216.0 L165.0,215.7 L165.6,215.1 L166.5,214.4 L167.2,213.8 L167.4,213.6 L168.4,212.8 L169.3,212.1 L169.4,212.1 L170.2,211.9 L171.1,211.7 L171.6,211.6 L172.1,211.5 L173.4,211.3 L173.6,211.2 L173.8,211.1 L174.0,210.9 L174.2,210.8 L174.4,210.7 L174.6,210.5 L174.7,210.5 L174.8,210.4 L175.0,210.2 L175.2,210.1 L175.4,209.9 L175.6,209.8 L175.8,209.6 L176.0,209.5 L176.0,209.5 L176.2,209.3 L176.4,209.2 L176.6,209.0 L176.8,208.8 L177.0,208.7 L177.2,208.5 L177.3,208.4 L177.4,208.3 L177.6,208.1 L177.8,208.0 L178.0,207.8 L178.2,207.6 L178.4,207.4 L178.6,207.2 L178.6,207.2 L178.8,207.0 L179.0,206.8 L179.2,206.6 L179.4,206.4 L179.6,206.2 L179.8,206.0 L179.9,205.9 L180.0,205.8 L180.2,205.6 L180.4,205.4 L180.6,205.2 L180.8,204.9 L181.0,204.7 L181.2,204.5 L181.3,204.5 L181.5,204.3 L181.7,204.0 L181.9,203.8 L182.1,203.6 L182.3,203.3 L182.5,203.1 L182.5,203.0 L182.7,202.8 L182.9,202.6 L183.1,202.3 L183.3,202.1 L183.5,201.8 L183.7,201.6 L183.8,201.4 L183.9,201.3 L184.1,201.0 L184.3,200.8 L184.5,200.5 L184.7,200.2 L184.9,200.0 L185.1,199.7 L185.1,199.6 L185.3,199.4 L185.5,199.1 L185.7,198.8 L185.9,198.5 L186.1,198.2 L186.3,197.9 L186.4,197.7 L186.5,197.6 L186.7,197.3 L186.9,197.0 L187.1,196.7 L187.3,196.4 L187.5,196.1 L187.7,195.8 L187.7,195.7 L187.9,195.5 L188.1,195.1 L188.3,194.8 L188.5,194.5 L188.7,194.1 L188.9,193.8 L189.1,193.6 L189.1,193.5 L189.3,193.1 L189.5,192.8 L189.7,192.4 L189.9,192.1 L190.1,191.7 L190.3,191.4 L190.4,191.3 L190.5,191.0 L190.7,190.7 L190.9,190.3 L191.1,189.9 L191.3,189.6 L191.5,189.2 L191.7,189.0 L191.7,188.8 L191.9,188.4 L192.1,188.1 L192.3,187.7 L192.5,187.3 L192.7,186.9 L192.9,186.5 L193.0,186.5 L193.1,186.1 L193.3,185.7 L193.5,185.3 L193.7,184.9 L194.0,184.5 L194.2,184.1 L194.3,183.9 L194.4,183.7 L194.6,183.3 L194.8,182.9 L195.0,182.5 L195.2,182.0 L195.4,181.6 L195.6,181.2 L195.6,181.2 L195.8,180.8 L196.0,180.3 L196.2,179.9 L196.4,179.5 L196.6,179.0 L196.8,178.6 L196.9,178.4 L197.0,178.2 L197.2,177.7 L197.4,177.3 L197.6,176.8 L197.8,176.4 L198.0,175.9 L198.2,175.5 L198.2,175.4 L198.4,175.0 L198.6,174.5 L198.8,174.1 L199.0,173.6 L199.2,173.1 L199.4,172.7 L199.5,172.4 L199.6,172.2 L199.8,171.7 L200.0,171.3 L200.2,170.8 L200.4,170.3 L200.6,169.8 L200.8,169.3 L200.8,169.3 L201.0,168.8 L201.2,168.4 L201.4,167.9 L201.6,167.4 L201.8,166.9 L202.0,166.4 L202.1,166.2 L202.2,165.9 L202.4,165.4 L202.6,164.9 L202.8,164.4 L203.0,163.9 L203.2,163.4 L203.4,162.9 L203.4,162.9 L203.6,162.4 L203.8,161.8 L204.0,161.3 L204.2,160.8 L204.4,160.3 L204.6,159.8 L204.7,159.6 L204.8,159.2 L205.0,158.7 L205.2,158.2 L205.4,157.7 L205.6,157.1 L205.8,156.6 L206.0,156.1 L206.0,156.1 L206.2,155.5 L206.4,155.0 L206.7,154.5 L206.9,153.9 L207.1,153.4 L207.3,152.8 L207.3,152.6 L207.5,152.3 L207.7,151.8 L207.9,151.2 L208.1,150.7 L208.3,150.1 L208.5,149.6 L208.6,149.1 L208.7,149.0 L208.9,148.4 L209.1,147.9 L209.3,147.3 L209.5,146.8 L209.7,146.2 L209.9,145.6 L209.9,145.5 L210.1,145.1 L210.3,144.5 L210.5,143.9 L210.7,143.4 L210.9,142.8 L211.1,142.2 L211.2,141.8 L211.3,141.7 L211.5,141.1 L211.7,140.5 L211.9,139.9 L212.1,139.4 L212.3,138.8 L212.5,138.2 L212.6,138.1 L212.7,137.6 L212.9,137.0 L213.1,136.5 L213.3,135.9 L213.5,135.3 L213.7,134.7 L213.9,134.3 L213.9,134.1 L214.1,133.6 L214.3,133.0 L214.5,132.4 L214.7,131.8 L214.9,131.2 L215.1,130.6 L215.2,130.5 L215.3,130.0 L215.5,129.4 L215.7,128.9 L215.9,128.3 L216.1,127.7 L216.3,127.1 L216.5,126.7 L216.5,126.5 L216.7,125.9 L216.9,125.3 L217.1,124.8 L217.3,124.2 L217.5,123.6 L217.7,123.0 L217.8,122.9 L217.9,122.4 L218.1,121.9 L218.3,121.3 L218.5,120.7 L218.7,120.1 L218.9,119.6 L219.1,119.2 L219.2,119.0 L219.4,118.4 L219.6,117.9 L219.8,117.3 L220.0,116.8 L220.2,116.2 L220.4,115.7 L220.4,115.6 L220.6,115.1 L220.8,114.6 L221.0,114.0 L221.2,113.5 L221.4,113.0 L221.6,112.5 L221.7,112.2 L221.8,112.0 L222.0,111.4 L222.2,110.9 L222.4,110.4 L222.6,110.0 L222.8,109.5 L223.0,109.0 L223.0,109.0 L223.2,108.5 L223.4,108.1 L223.6,107.6 L223.8,107.2 L224.0,106.7 L224.2,106.3 L224.3,106.1 L224.4,105.9 L224.6,105.5 L224.8,105.1 L225.0,104.7 L225.2,104.3 L225.4,104.0 L225.6,103.6 L225.8,103.2 L226.0,102.9 L226.2,102.6 L226.4,102.3 L226.6,102.0 L226.8,101.8 L227.0,101.6 L227.1,101.5 L227.2,101.4 L227.4,101.2 L227.6,101.1 L227.8,100.9 L228.0,100.8 L228.2,100.7 L228.4,100.6 L228.6,100.6 L228.7,100.6 L228.8,100.6 L229.0,100.7 L229.2,100.9 L229.4,101.1 L229.6,101.3 L229.7,101.3 L229.8,101.6 L230.0,102.0 L230.2,102.6 L230.4,103.2 L230.5,103.3 L230.6,103.9 L230.8,104.6 L231.0,105.5 L231.1,105.6 L231.2,106.4 L231.4,107.5 L231.6,108.6 L231.9,109.9 L232.1,111.2 L232.3,112.7 L232.3,112.8 L232.5,114.4 L232.7,116.3 L232.9,118.5 L233.1,120.9 L233.1,121.0 L233.3,123.5 L233.5,126.5 L233.7,130.0 L233.7,130.1 L233.9,135.3 L234.1,140.7 L234.2,142.1 L234.3,142.8 L234.3,142.8 L234.5,151.1 L234.7,165.6 L234.9,177.4 L234.9,178.2 L235.1,187.1 L235.2,190.7 L235.3,193.9 L235.4,198.0 L235.5,198.7 L235.7,202.0 L235.8,203.5 L235.9,203.9 L236.1,205.0 L236.3,205.7 L236.4,205.9 L236.5,206.3 L236.7,206.7 L236.9,207.0 L237.0,207.1 L237.1,207.2 L237.3,207.4 L237.5,207.6 L237.7,207.7 L237.9,207.9 L238.1,208.0 L238.3,208.2 L238.5,208.3 L238.7,208.4 L238.9,208.5 L239.1,208.6 L239.3,208.7 L239.5,208.7 L239.7,208.8 L239.9,208.9 L240.1,208.9 L240.2,208.9 L240.3,209.0 L240.5,209.0 L240.7,209.1 L240.9,209.1 L241.1,209.2 L241.3,209.2 L241.5,209.2 L241.7,209.3 L241.9,209.3 L242.1,209.3 L242.3,209.4 L242.5,209.4 L242.7,209.4 L242.9,209.5 L243.1,209.5 L243.3,209.5 L243.5,209.5 L243.7,209.6 L243.9,209.6 L244.1,209.6 L244.4,209.7 L244.5,209.7 L244.6,209.7 L244.8,209.7 L245.0,209.7 L245.2,209.8 L245.4,209.8 L245.6,209.8 L245.8,209.9 L246.0,209.9 L246.2,209.9 L246.4,209.9 L246.6,210.0 L246.8,210.0 L247.0,210.0 L247.2,210.0 L247.4,210.1 L247.6,210.1 L247.8,210.1 L248.0,210.1 L248.2,210.2 L248.4,210.2 L248.6,210.2 L248.8,210.2 L249.0,210.3 L249.2,210.3 L249.4,210.3 L249.6,210.3 L249.8,210.4 L250.0,210.4 L250.2,210.4 L250.4,210.4 L250.6,210.5 L250.8,210.5 L251.0,210.5 L251.2,210.5 L251.4,210.5 L251.6,210.6 L251.8,210.6 L252.0,210.6 L252.2,210.6 L252.4,210.6 L252.6,210.7 L252.8,210.7 L253.0,210.7 L253.2,210.7 L253.4,210.7 L253.6,210.7 L253.8,210.8 L272.0,211.0 L326.0,211.1 L380.0,211.1 L416.0,211.0 L428.6,210.7 L434.0,209.9" stroke="#289e60" stroke-width="1.15" fill="none" stroke-linejoin="round"/>
<path d="M434.0,210.9 L344.0,211.3 L254.0,211.3 L182.0,211.7 L173.0,212.0 L172.1,211.9 L171.6,212.0 L171.1,212.1 L170.2,212.3 L169.4,212.5 L169.3,212.5 L168.4,213.2 L167.4,214.0 L167.2,214.2 L166.5,214.7 L165.6,215.5 L165.0,216.0 L164.7,216.3 L163.7,217.1 L162.8,218.0 L162.7,218.1 L161.9,218.9 L160.9,219.8 L160.5,220.3 L160.0,220.8 L159.1,221.8 L158.3,222.7 L158.2,222.8 L157.2,223.9 L156.3,225.0 L156.1,225.3 L155.4,226.2 L154.5,227.4 L153.8,228.2 L153.5,228.6 L152.6,229.8 L151.7,231.1 L151.6,231.2 L150.7,232.4 L149.8,233.7 L149.4,234.4 L148.9,235.1 L148.0,236.5 L147.2,237.7 L147.0,238.0 L146.1,239.4 L145.2,240.9 L145.0,241.3 L144.2,242.4 L143.3,244.0 L142.7,245.0 L142.4,245.5 L141.5,247.1 L140.5,248.8 L140.5,248.8 L139.6,250.4 L138.7,252.1 L138.3,252.8 L137.8,253.8 L136.8,255.5 L136.1,257.0 L135.9,257.3 L135.0,259.1 L134.0,260.8 L133.8,261.3 L133.1,262.7 L132.2,264.5 L131.6,265.7 L131.3,266.4 L130.3,268.3 L129.4,270.2 L129.4,270.2 L128.5,272.1 L127.6,274.0 L127.2,274.9 L126.6,276.0 L125.7,278.0 L124.9,279.6 L124.8,280.0 L123.8,282.0 L122.9,284.1 L122.7,284.5 L122.0,286.1 L121.1,288.2 L120.5,289.5 L120.1,290.3 L119.2,292.4 L118.3,294.5" stroke="#289e60" stroke-width="1.15" fill="none" stroke-linejoin="round"/>
<rect x="92" y="50.6" width="377.6" height="303.9" stroke="#000" stroke-width="2.1" fill="none"/>
<line x1="164.0" y1="354.5" x2="164.0" y2="348.5" stroke="#000" stroke-width="2.1" fill="none"/>
<line x1="236.0" y1="354.5" x2="236.0" y2="348.5" stroke="#000" stroke-width="2.1" fill="none"/>
<line x1="308.0" y1="354.5" x2="308.0" y2="348.5" stroke="#000" stroke-width="2.1" fill="none"/>
<line x1="380.0" y1="354.5" x2="380.0" y2="348.5" stroke="#000" stroke-width="2.1" fill="none"/>
<line x1="452.0" y1="354.5" x2="452.0" y2="348.5" stroke="#000" stroke-width="2.1" fill="none"/>
<line x1="128.0" y1="354.5" x2="128.0" y2="351.0" stroke="#000" stroke-width="2.1" fill="none"/>
<line x1="200.0" y1="354.5" x2="200.0" y2="351.0" stroke="#000" stroke-width="2.1" fill="none"/>
<line x1="272.0" y1="354.5" x2="272.0" y2="351.0" stroke="#000" stroke-width="2.1" fill="none"/>
<line x1="344.0" y1="354.5" x2="344.0" y2="351.0" stroke="#000" stroke-width="2.1" fill="none"/>
<line x1="416.0" y1="354.5" x2="416.0" y2="351.0" stroke="#000" stroke-width="2.1" fill="none"/>
<line x1="92" y1="68.1" x2="98" y2="68.1" stroke="#000" stroke-width="2.1" fill="none"/>
<line x1="92" y1="139.7" x2="98" y2="139.7" stroke="#000" stroke-width="2.1" fill="none"/>
<line x1="92" y1="211.3" x2="98" y2="211.3" stroke="#000" stroke-width="2.1" fill="none"/>
<line x1="92" y1="282.9" x2="98" y2="282.9" stroke="#000" stroke-width="2.1" fill="none"/>
<line x1="92" y1="103.9" x2="95.5" y2="103.9" stroke="#000" stroke-width="2.1" fill="none"/>
<line x1="92" y1="175.5" x2="95.5" y2="175.5" stroke="#000" stroke-width="2.1" fill="none"/>
<line x1="92" y1="247.1" x2="95.5" y2="247.1" stroke="#000" stroke-width="2.1" fill="none"/>
<line x1="92" y1="318.7" x2="95.5" y2="318.7" stroke="#000" stroke-width="2.1" fill="none"/>
<text transform="translate(92.0 375.8)" font-family="'Liberation Sans', 'Noto Sans CJK SC', sans-serif" font-weight="bold" font-size="18.4" text-anchor="middle" fill="#000">-0.4</text>
<text transform="translate(164.0 375.8)" font-family="'Liberation Sans', 'Noto Sans CJK SC', sans-serif" font-weight="bold" font-size="18.4" text-anchor="middle" fill="#000">0.0</text>
<text transform="translate(236.0 375.8)" font-family="'Liberation Sans', 'Noto Sans CJK SC', sans-serif" font-weight="bold" font-size="18.4" text-anchor="middle" fill="#000">0.4</text>
<text transform="translate(308.0 375.8)" font-family="'Liberation Sans', 'Noto Sans CJK SC', sans-serif" font-weight="bold" font-size="18.4" text-anchor="middle" fill="#000">0.8</text>
<text transform="translate(380.0 375.8)" font-family="'Liberation Sans', 'Noto Sans CJK SC', sans-serif" font-weight="bold" font-size="18.4" text-anchor="middle" fill="#000">1.2</text>
<text transform="translate(452.0 375.8)" font-family="'Liberation Sans', 'Noto Sans CJK SC', sans-serif" font-weight="bold" font-size="18.4" text-anchor="middle" fill="#000">1.6</text>
<text transform="translate(84.8 73.9)" font-family="'Liberation Sans', 'Noto Sans CJK SC', sans-serif" font-weight="bold" font-size="18.4" text-anchor="end" fill="#000">0.2</text>
<text transform="translate(84.8 145.5)" font-family="'Liberation Sans', 'Noto Sans CJK SC', sans-serif" font-weight="bold" font-size="18.4" text-anchor="end" fill="#000">0.1</text>
<text transform="translate(84.8 217.1)" font-family="'Liberation Sans', 'Noto Sans CJK SC', sans-serif" font-weight="bold" font-size="18.4" text-anchor="end" fill="#000">0.0</text>
<text transform="translate(84.8 288.7)" font-family="'Liberation Sans', 'Noto Sans CJK SC', sans-serif" font-weight="bold" font-size="18.4" text-anchor="end" fill="#000">-0.1</text>
<text transform="translate(84.8 360.3)" font-family="'Liberation Sans', 'Noto Sans CJK SC', sans-serif" font-weight="bold" font-size="18.4" text-anchor="end" fill="#000">-0.2</text>
<text transform="translate(210.68 407.80) scale(1.03 1)" font-family="'Liberation Sans', 'Noto Sans CJK SC', sans-serif" font-weight="bold" font-size="19.7" fill="#000">Potential</text>
<text transform="translate(295.38 407.80) scale(1.03 1)" font-family="'Liberation Sans', 'Noto Sans CJK SC', sans-serif" font-weight="bold" font-size="17.5" fill="#000" class="p">（</text>
<text transform="translate(316.90 407.80) scale(1.03 1)" font-family="'Liberation Sans', 'Noto Sans CJK SC', sans-serif" font-weight="bold" font-size="19.7" fill="#000">V</text>
<text transform="translate(331.72 407.80) scale(1.03 1)" font-family="'Liberation Sans', 'Noto Sans CJK SC', sans-serif" font-weight="bold" font-size="17.5" fill="#000" class="p">）</text>
<text transform="translate(45.70 264.99) rotate(-90) scale(1 1.03)" font-family="'Liberation Sans', 'Noto Sans CJK SC', sans-serif" font-weight="bold" font-size="19.7" fill="#000">Current</text>
<text transform="translate(45.70 192.97) rotate(-90) scale(1 1.03)" font-family="'Liberation Sans', 'Noto Sans CJK SC', sans-serif" font-weight="bold" font-size="17.5" fill="#000" class="p">（</text>
<text transform="translate(45.70 173.79) rotate(-90) scale(1 1.03)" font-family="'Liberation Sans', 'Noto Sans CJK SC', sans-serif" font-weight="bold" font-size="19.7" fill="#000">A</text>
<text transform="translate(45.70 156.55) rotate(-90) scale(1 1.03)" font-family="'Liberation Sans', 'Noto Sans CJK SC', sans-serif" font-weight="bold" font-size="17.5" fill="#000" class="p">）</text>
<line x1="342" y1="71.5" x2="378.7" y2="71.5" stroke="#3a3a3a" stroke-width="1.2"/>
<text transform="translate(382.4 76.5) scale(1.03 1)" font-family="'Liberation Sans', 'Noto Sans CJK SC', sans-serif" font-weight="bold" font-size="15.5" text-anchor="start" fill="#000">0 mg/L</text>
<line x1="342" y1="91.3" x2="378.7" y2="91.3" stroke="#f03232" stroke-width="1.2"/>
<text transform="translate(382.4 96.3) scale(1.03 1)" font-family="'Liberation Sans', 'Noto Sans CJK SC', sans-serif" font-weight="bold" font-size="15.5" text-anchor="start" fill="#000">50 mg/L</text>
<line x1="342" y1="111.1" x2="378.7" y2="111.1" stroke="#1464dc" stroke-width="1.2"/>
<text transform="translate(382.4 116.1) scale(1.03 1)" font-family="'Liberation Sans', 'Noto Sans CJK SC', sans-serif" font-weight="bold" font-size="15.5" text-anchor="start" fill="#000">125 mg/L</text>
<line x1="342" y1="130.9" x2="378.7" y2="130.9" stroke="#1e9e58" stroke-width="1.2"/>
<text transform="translate(382.4 135.9) scale(1.03 1)" font-family="'Liberation Sans', 'Noto Sans CJK SC', sans-serif" font-weight="bold" font-size="15.5" text-anchor="start" fill="#000">200 mg/L</text>
<g clip-path="url(#clipb)">
<line x1="626.1" y1="355.8" x2="936.42" y2="355.8" stroke="#1e9e58" stroke-width="2"/>
<path d="M628.0,355.7 L628.9,355.4 L629.9,355.0 L630.9,354.6 L631.8,354.3 L632.8,353.9 L633.7,353.5 L634.2,353.3 L634.7,353.0 L635.7,352.6 L636.6,352.2 L637.6,351.7 L638.6,351.2 L639.5,350.7 L640.5,350.2 L640.5,350.2 L641.5,349.7 L642.4,349.2 L643.4,348.7 L644.4,348.1 L645.3,347.6 L646.3,347.1 L646.7,346.8 L647.3,346.5 L648.2,345.9 L649.2,345.4 L650.2,344.8 L651.1,344.2 L652.1,343.6 L653.0,343.1 L653.1,343.1 L654.0,342.5 L655.0,341.9 L656.0,341.3 L656.9,340.7 L657.9,340.1 L658.9,339.5 L659.2,339.2 L659.8,338.9 L660.8,338.2 L661.7,337.6 L662.7,337.0 L663.7,336.4 L664.6,335.7 L665.5,335.2 L665.6,335.1 L666.6,334.5 L667.5,333.8 L668.5,333.2 L669.5,332.5 L670.4,331.9 L671.4,331.2 L671.7,331.0 L672.4,330.6 L673.3,329.9 L674.3,329.2 L675.3,328.6 L676.2,327.9 L677.2,327.2 L678.0,326.7 L678.2,326.5 L679.1,325.9 L680.1,325.2 L681.1,324.5 L682.0,323.8 L683.0,323.1 L684.0,322.4 L684.2,322.2 L684.9,321.7 L685.9,321.0 L686.8,320.2 L687.8,319.5 L688.8,318.8 L689.7,318.0 L690.5,317.5 L690.7,317.3 L691.7,316.6 L692.6,315.8 L693.6,315.0 L694.6,314.3 L695.5,313.5 L696.5,312.7 L696.7,312.6 L697.5,312.0 L698.4,311.2 L699.4,310.4 L700.4,309.6 L701.3,308.8 L702.3,308.0 L703.0,307.4 L703.3,307.1 L704.2,306.3 L705.2,305.5 L706.2,304.6 L707.1,303.8 L708.1,302.9 L709.1,302.1 L709.2,301.9 L710.0,301.2 L711.0,300.3 L711.9,299.5 L712.9,298.6 L713.9,297.7 L714.8,296.8 L715.5,296.2 L715.8,295.9 L716.8,294.9 L717.7,294.0 L718.7,293.1 L719.7,292.1 L720.6,291.2 L721.6,290.2 L721.7,290.1 L722.6,289.3 L723.5,288.3 L724.5,287.3 L725.5,286.3 L726.4,285.3 L727.4,284.4 L728.0,283.7 L728.4,283.3 L729.3,282.3 L730.3,281.3 L731.3,280.3 L732.2,279.3 L733.2,278.2 L734.2,277.2 L734.2,277.1 L735.1,276.1 L736.1,275.1 L737.1,274.0 L738.0,272.9 L739.0,271.8 L739.9,270.7 L740.5,270.1 L740.9,269.7 L741.9,268.6 L742.8,267.5 L743.8,266.3 L744.8,265.2 L745.7,264.1 L746.7,263.0 L746.7,262.9 L747.7,261.8 L748.6,260.7 L749.6,259.6 L750.6,258.4 L751.5,257.3 L752.5,256.1 L753.0,255.5 L753.5,254.9 L754.4,253.8 L755.4,252.6 L756.4,251.4 L757.3,250.2 L758.3,249.0 L759.2,247.9 L759.3,247.9 L760.2,246.7 L761.2,245.5 L762.2,244.3 L763.1,243.1 L764.1,241.8 L765.0,240.6 L765.5,240.1 L766.0,239.4 L767.0,238.2 L767.9,237.0 L768.9,235.7 L769.9,234.5 L770.8,233.3 L771.7,232.1 L771.8,232.1 L772.8,230.8 L773.7,229.6 L774.7,228.3 L775.7,227.1 L776.6,225.9 L777.6,224.6 L778.0,224.1 L778.6,223.4 L779.5,222.1 L780.5,220.9 L781.5,219.6 L782.4,218.4 L783.4,217.1 L784.2,216.0 L784.4,215.9 L785.3,214.6 L786.3,213.4 L787.3,212.1 L788.2,210.8 L789.2,209.6 L790.1,208.3 L790.5,207.9 L791.1,207.1 L792.1,205.8 L793.0,204.5 L794.0,203.3 L795.0,202.0 L795.9,200.8 L796.8,199.7 L796.9,199.5 L797.9,198.2 L798.8,197.0 L799.8,195.7 L800.8,194.5 L801.7,193.2 L802.7,191.9 L803.0,191.6 L803.7,190.7 L804.6,189.4 L805.6,188.2 L806.6,186.9 L807.5,185.7 L808.5,184.4 L809.3,183.4 L809.5,183.1 L810.4,181.9 L811.4,180.6 L812.4,179.4 L813.3,178.1 L814.3,176.9 L815.3,175.6 L815.5,175.3 L816.2,174.4 L817.2,173.1 L818.1,171.8 L819.1,170.6 L820.1,169.3 L821.0,168.1 L821.8,167.2 L822.0,166.8 L823.0,165.6 L823.9,164.3 L824.9,163.1 L825.9,161.9 L826.8,160.6 L827.8,159.4 L828.0,159.1 L828.8,158.1 L829.7,156.9 L830.7,155.6 L831.7,154.4 L832.6,153.1 L833.6,151.9 L834.3,151.1 L834.6,150.7 L835.5,149.4 L836.5,148.2 L837.5,147.0 L838.4,145.7 L839.4,144.5 L840.4,143.3 L840.5,143.1 L841.3,142.0 L842.3,140.8 L843.2,139.6 L844.2,138.4 L845.2,137.1 L846.1,135.9 L846.8,135.1 L847.1,134.7 L848.1,133.5 L849.0,132.3 L850.0,131.1 L851.0,129.9 L851.9,128.7 L852.9,127.5 L853.0,127.3 L853.9,126.3 L854.8,125.1 L855.8,123.9 L856.8,122.7 L857.7,121.6 L858.7,120.4 L859.3,119.7 L859.7,119.3 L860.6,118.1 L861.6,117.0 L862.6,115.8 L863.5,114.7 L864.5,113.6 L865.5,112.5 L865.5,112.4 L866.4,111.4 L867.4,110.3 L868.3,109.2 L869.3,108.1 L870.3,107.0 L871.2,106.0 L871.8,105.5 L872.2,105.1 L873.2,104.1 L874.1,103.1 L875.1,102.1 L876.1,101.2 L877.0,100.2 L878.0,99.3 L879.0,98.3 L879.9,97.4 L880.9,96.6 L881.9,95.7 L882.8,94.9 L883.8,94.1 L884.8,93.4 L885.7,92.8 L886.7,92.2 L887.0,92.0 L887.7,91.6 L888.6,91.1 L889.6,90.6 L890.6,90.1 L891.5,89.7 L892.5,89.3 L893.5,88.9 L894.4,88.6 L894.7,88.5 L895.4,88.3 L896.3,88.0 L897.3,87.7 L898.3,87.5 L899.2,87.3 L900.2,87.2 L900.4,87.2 L901.2,87.2 L902.1,87.2 L903.1,87.3 L904.1,87.4 L905.0,87.5 L906.0,87.6 L906.1,87.6 L907.0,87.7 L907.9,88.0 L908.9,88.4 L909.9,88.9 L910.8,89.4 L910.9,89.5 L911.8,90.2 L912.8,91.2 L913.7,92.5 L914.7,93.8 L914.7,93.9 L915.7,95.3 L916.6,97.0 L917.6,98.8 L918.0,99.6 L918.6,100.9 L919.5,103.1 L920.5,105.4 L921.4,108.1 L922.4,111.0 L923.3,114.0 L923.4,114.2 L924.3,117.8 L925.3,121.9 L926.3,126.6 L927.2,131.8 L928.1,136.9 L928.2,137.6 L929.2,144.3 L930.1,152.2 L931.1,161.1 L931.9,169.4 L932.1,171.0 L933.0,183.3 L934.0,196.7 L934.4,201.9 L935.0,208.1 L935.1,210.0 L935.9,221.0 L936.9,235.8 L937.9,251.4 L938.8,266.8 L939.7,280.1 L939.8,281.0 L940.8,294.6 L941.7,307.6 L942.7,318.9 L942.8,320.0 L943.7,328.5 L944.6,335.4 L944.6,335.5 L945.6,340.0 L946.5,342.9 L946.6,343.1 L947.5,344.5 L948.5,345.7 L949.4,346.5 L950.0,346.9 L950.4,347.2 L951.4,347.7 L952.3,348.1 L953.3,348.4 L954.3,348.7 L954.3,348.7 L955.2,349.0 L956.2,349.2 L957.2,349.5 L958.1,349.7 L959.1,349.9 L960.1,350.1 L961.0,350.3 L962.0,350.5 L963.0,350.7 L963.9,350.9 L964.9,351.0 L965.9,351.2 L966.8,351.3 L967.8,351.4 L968.4,351.5 L968.8,351.5 L969.7,351.7 L970.7,351.8 L971.7,351.9 L972.6,352.0 L973.6,352.1 L974.5,352.2 L975.5,352.3 L976.5,352.4 L977.4,352.5 L978.4,352.6 L979.4,352.7 L980.3,352.8 L981.3,352.9 L982.3,352.9 L983.2,353.0 L984.2,353.1 L985.2,353.2 L986.1,353.3 L987.1,353.4 L988.1,353.5 L989.0,353.5 L990.0,353.6 L991.0,353.7 L991.9,353.7 L992.9,353.8 L993.9,353.9 L994.8,353.9 L995.8,354.0 L996.8,354.1 L997.7,354.1 L998.7,354.2 L999.6,354.2 L1000.6,354.3 L1001.6,354.3 L1002.5,354.4 L1003.5,354.4 L1004.5,354.4 L1005.4,354.5 L1006.4,354.5 L1007.4,354.5 L1008.3,354.5 L1009.3,354.5 L1010.3,354.6 L1011.2,354.6 L1012.2,354.6 L1013.2,354.6" stroke="#3a3a3a" stroke-width="1.9" fill="none" stroke-linejoin="round"/>
<path d="M628.0,355.7 L628.9,355.4 L629.9,355.1 L630.9,354.8 L631.8,354.4 L632.8,354.1 L633.7,353.7 L634.2,353.6 L634.7,353.4 L635.7,353.0 L636.6,352.6 L637.6,352.2 L638.6,351.8 L639.5,351.4 L640.5,351.0 L640.5,351.0 L641.5,350.5 L642.4,350.1 L643.4,349.7 L644.4,349.2 L645.3,348.8 L646.3,348.3 L646.7,348.1 L647.3,347.9 L648.2,347.4 L649.2,346.9 L650.2,346.4 L651.1,345.9 L652.1,345.5 L653.0,345.0 L653.1,345.0 L654.0,344.5 L655.0,344.0 L656.0,343.4 L656.9,342.9 L657.9,342.4 L658.9,341.9 L659.2,341.7 L659.8,341.4 L660.8,340.8 L661.7,340.3 L662.7,339.7 L663.7,339.2 L664.6,338.6 L665.5,338.2 L665.6,338.1 L666.6,337.5 L667.5,337.0 L668.5,336.4 L669.5,335.8 L670.4,335.2 L671.4,334.7 L671.7,334.5 L672.4,334.1 L673.3,333.5 L674.3,332.9 L675.3,332.3 L676.2,331.7 L677.2,331.1 L678.0,330.6 L678.2,330.4 L679.1,329.8 L680.1,329.2 L681.1,328.6 L682.0,327.9 L683.0,327.3 L684.0,326.6 L684.2,326.5 L684.9,326.0 L685.9,325.3 L686.8,324.7 L687.8,324.0 L688.8,323.3 L689.7,322.6 L690.5,322.1 L690.7,321.9 L691.7,321.2 L692.6,320.5 L693.6,319.8 L694.6,319.1 L695.5,318.4 L696.5,317.7 L696.7,317.5 L697.5,317.0 L698.4,316.2 L699.4,315.5 L700.4,314.7 L701.3,314.0 L702.3,313.2 L703.0,312.7 L703.3,312.5 L704.2,311.7 L705.2,310.9 L706.2,310.1 L707.1,309.3 L708.1,308.5 L709.1,307.7 L709.2,307.6 L710.0,306.9 L711.0,306.1 L711.9,305.3 L712.9,304.4 L713.9,303.6 L714.8,302.8 L715.5,302.2 L715.8,301.9 L716.8,301.1 L717.7,300.2 L718.7,299.3 L719.7,298.5 L720.6,297.6 L721.6,296.7 L721.7,296.6 L722.6,295.8 L723.5,294.9 L724.5,294.0 L725.5,293.1 L726.4,292.2 L727.4,291.2 L728.0,290.7 L728.4,290.3 L729.3,289.4 L730.3,288.4 L731.3,287.5 L732.2,286.5 L733.2,285.6 L734.2,284.6 L734.2,284.5 L735.1,283.7 L736.1,282.7 L737.1,281.7 L738.0,280.7 L739.0,279.7 L739.9,278.7 L740.5,278.2 L740.9,277.7 L741.9,276.7 L742.8,275.7 L743.8,274.7 L744.8,273.7 L745.7,272.7 L746.7,271.6 L746.7,271.6 L747.7,270.6 L748.6,269.6 L749.6,268.5 L750.6,267.5 L751.5,266.4 L752.5,265.4 L753.0,264.8 L753.5,264.3 L754.4,263.3 L755.4,262.2 L756.4,261.1 L757.3,260.0 L758.3,259.0 L759.2,257.9 L759.3,257.9 L760.2,256.8 L761.2,255.7 L762.2,254.6 L763.1,253.5 L764.1,252.4 L765.0,251.3 L765.5,250.8 L766.0,250.2 L767.0,249.1 L767.9,248.0 L768.9,246.9 L769.9,245.8 L770.8,244.7 L771.7,243.6 L771.8,243.5 L772.8,242.4 L773.7,241.3 L774.7,240.2 L775.7,239.0 L776.6,237.9 L777.6,236.8 L778.0,236.3 L778.6,235.6 L779.5,234.5 L780.5,233.4 L781.5,232.2 L782.4,231.1 L783.4,229.9 L784.2,228.9 L784.4,228.8 L785.3,227.6 L786.3,226.5 L787.3,225.3 L788.2,224.2 L789.2,223.0 L790.1,221.9 L790.5,221.4 L791.1,220.7 L792.1,219.5 L793.0,218.4 L794.0,217.2 L795.0,216.1 L795.9,214.9 L796.8,213.9 L796.9,213.7 L797.9,212.6 L798.8,211.4 L799.8,210.2 L800.8,209.0 L801.7,207.9 L802.7,206.7 L803.0,206.3 L803.7,205.5 L804.6,204.3 L805.6,203.1 L806.6,202.0 L807.5,200.8 L808.5,199.6 L809.3,198.7 L809.5,198.4 L810.4,197.2 L811.4,196.0 L812.4,194.8 L813.3,193.6 L814.3,192.5 L815.3,191.3 L815.5,190.9 L816.2,190.1 L817.2,188.9 L818.1,187.7 L819.1,186.5 L820.1,185.3 L821.0,184.1 L821.8,183.2 L822.0,182.9 L823.0,181.7 L823.9,180.5 L824.9,179.2 L825.9,178.0 L826.8,176.8 L827.8,175.6 L828.0,175.4 L828.8,174.4 L829.7,173.2 L830.7,172.0 L831.7,170.8 L832.6,169.6 L833.6,168.4 L834.3,167.5 L834.6,167.1 L835.5,165.9 L836.5,164.7 L837.5,163.5 L838.4,162.3 L839.4,161.1 L840.4,159.9 L840.5,159.7 L841.3,158.6 L842.3,157.4 L843.2,156.2 L844.2,155.0 L845.2,153.8 L846.1,152.6 L846.8,151.8 L847.1,151.4 L848.1,150.2 L849.0,149.0 L850.0,147.8 L851.0,146.6 L851.9,145.4 L852.9,144.2 L853.0,144.1 L853.9,143.0 L854.8,141.8 L855.8,140.7 L856.8,139.5 L857.7,138.3 L858.7,137.2 L859.3,136.5 L859.7,136.0 L860.6,134.9 L861.6,133.7 L862.6,132.6 L863.5,131.5 L864.5,130.4 L865.5,129.3 L865.5,129.2 L866.4,128.2 L867.4,127.1 L868.3,126.0 L869.3,124.9 L870.3,123.9 L871.2,122.9 L871.8,122.4 L872.2,121.9 L873.2,121.0 L874.1,120.0 L875.1,119.1 L876.1,118.1 L877.0,117.2 L878.0,116.2 L879.0,115.3 L879.9,114.5 L880.9,113.6 L881.9,112.8 L882.8,112.0 L883.8,111.3 L884.8,110.6 L885.7,109.9 L886.7,109.4 L887.0,109.2 L887.7,108.8 L888.6,108.3 L889.6,107.8 L890.6,107.3 L891.5,106.9 L892.5,106.5 L893.5,106.2 L894.4,106.0 L894.7,105.9 L895.4,105.8 L896.3,105.7 L897.3,105.6 L898.3,105.5 L899.2,105.4 L900.2,105.4 L900.4,105.4 L901.2,105.4 L902.1,105.5 L903.1,105.6 L904.1,105.8 L905.0,106.1 L905.2,106.1 L906.0,106.4 L907.0,106.9 L907.9,107.5 L908.9,108.3 L909.9,109.1 L909.9,109.2 L910.8,110.1 L911.8,111.3 L912.8,112.7 L913.7,114.3 L913.8,114.3 L914.7,115.9 L915.7,117.7 L916.6,119.7 L917.6,121.9 L918.6,124.5 L919.5,127.3 L919.5,127.4 L920.5,131.1 L921.4,135.7 L922.4,141.0 L923.3,146.4 L923.4,146.8 L924.3,153.1 L925.3,160.3 L926.3,168.5 L927.1,177.0 L927.2,178.1 L928.2,193.5 L929.2,207.8 L929.5,210.0 L930.0,211.4 L930.1,212.0 L931.1,219.8 L932.1,232.6 L933.0,248.5 L934.0,265.5 L935.0,281.8 L935.1,284.2 L935.9,297.9 L936.9,313.9 L937.2,317.5 L937.9,325.5 L938.7,332.8 L938.8,333.6 L939.8,338.6 L940.7,341.8 L940.8,341.8 L941.7,343.8 L942.7,345.2 L943.6,346.1 L943.7,346.2 L944.6,347.0 L945.6,347.7 L946.5,348.1 L946.6,348.2 L947.5,348.5 L948.5,348.8 L949.4,349.1 L950.4,349.4 L951.4,349.6 L952.3,349.9 L953.3,350.1 L954.3,350.3 L955.2,350.5 L956.2,350.6 L957.2,350.8 L958.1,350.9 L959.1,351.1 L960.1,351.2 L960.7,351.2 L961.0,351.3 L962.0,351.4 L963.0,351.5 L963.9,351.6 L964.9,351.7 L965.9,351.8 L966.8,351.9 L967.8,352.0 L968.8,352.1 L969.7,352.2 L970.7,352.3 L971.7,352.4 L972.6,352.5 L973.6,352.6 L974.5,352.6 L975.5,352.7 L976.5,352.8 L977.4,352.9 L978.4,353.0 L979.4,353.1 L980.3,353.1 L981.3,353.2 L982.3,353.3 L983.2,353.4 L984.2,353.4 L985.2,353.5 L986.1,353.6 L987.1,353.6 L988.1,353.7 L989.0,353.8 L990.0,353.8 L991.0,353.9 L991.9,353.9 L992.9,354.0 L993.9,354.0 L994.8,354.1 L995.8,354.1 L996.8,354.2 L997.7,354.2 L998.7,354.3 L999.6,354.3 L1000.6,354.3 L1001.6,354.4 L1002.5,354.4 L1003.5,354.4 L1004.5,354.5 L1005.4,354.5 L1006.4,354.5 L1007.4,354.5 L1008.3,354.5 L1009.3,354.6 L1010.3,354.6 L1011.2,354.6 L1012.2,354.6 L1013.2,354.6" stroke="#f03232" stroke-width="1.9" fill="none" stroke-linejoin="round"/>
<path d="M628.0,355.7 L628.9,355.4 L629.9,355.1 L630.9,354.8 L631.8,354.5 L632.8,354.2 L633.7,353.9 L634.2,353.7 L634.7,353.6 L635.7,353.2 L636.6,352.9 L637.6,352.6 L638.6,352.2 L639.5,351.9 L640.5,351.5 L640.5,351.5 L641.5,351.2 L642.4,350.8 L643.4,350.4 L644.4,350.1 L645.3,349.7 L646.3,349.3 L646.7,349.1 L647.3,348.9 L648.2,348.5 L649.2,348.1 L650.2,347.7 L651.1,347.3 L652.1,346.9 L653.0,346.5 L653.1,346.5 L654.0,346.0 L655.0,345.6 L656.0,345.2 L656.9,344.7 L657.9,344.3 L658.9,343.8 L659.2,343.6 L659.8,343.3 L660.8,342.9 L661.7,342.4 L662.7,341.9 L663.7,341.4 L664.6,340.9 L665.5,340.5 L665.6,340.4 L666.6,339.9 L667.5,339.4 L668.5,338.9 L669.5,338.4 L670.4,337.9 L671.4,337.3 L671.7,337.2 L672.4,336.8 L673.3,336.2 L674.3,335.7 L675.3,335.1 L676.2,334.6 L677.2,334.0 L678.0,333.5 L678.2,333.4 L679.1,332.8 L680.1,332.3 L681.1,331.7 L682.0,331.1 L683.0,330.5 L684.0,329.9 L684.2,329.7 L684.9,329.2 L685.9,328.6 L686.8,328.0 L687.8,327.3 L688.8,326.7 L689.7,326.1 L690.5,325.6 L690.7,325.4 L691.7,324.7 L692.6,324.1 L693.6,323.4 L694.6,322.7 L695.5,322.1 L696.5,321.4 L696.7,321.2 L697.5,320.7 L698.4,320.0 L699.4,319.3 L700.4,318.6 L701.3,317.8 L702.3,317.1 L703.0,316.6 L703.3,316.4 L704.2,315.7 L705.2,314.9 L706.2,314.2 L707.1,313.4 L708.1,312.7 L709.1,311.9 L709.2,311.8 L710.0,311.1 L711.0,310.4 L711.9,309.6 L712.9,308.8 L713.9,308.0 L714.8,307.2 L715.5,306.7 L715.8,306.4 L716.8,305.6 L717.7,304.8 L718.7,304.0 L719.7,303.2 L720.6,302.3 L721.6,301.5 L721.7,301.4 L722.6,300.7 L723.5,299.8 L724.5,299.0 L725.5,298.1 L726.4,297.3 L727.4,296.4 L728.0,295.9 L728.4,295.5 L729.3,294.7 L730.3,293.8 L731.3,292.9 L732.2,292.0 L733.2,291.1 L734.2,290.2 L734.2,290.2 L735.1,289.3 L736.1,288.4 L737.1,287.5 L738.0,286.6 L739.0,285.7 L739.9,284.7 L740.5,284.2 L740.9,283.8 L741.9,282.9 L742.8,281.9 L743.8,281.0 L744.8,280.0 L745.7,279.1 L746.7,278.1 L746.7,278.1 L747.7,277.2 L748.6,276.2 L749.6,275.2 L750.6,274.3 L751.5,273.3 L752.5,272.3 L753.0,271.8 L753.5,271.3 L754.4,270.3 L755.4,269.3 L756.4,268.3 L757.3,267.3 L758.3,266.3 L759.2,265.3 L759.3,265.3 L760.2,264.3 L761.2,263.3 L762.2,262.2 L763.1,261.2 L764.1,260.2 L765.0,259.1 L765.5,258.6 L766.0,258.1 L767.0,257.0 L767.9,256.0 L768.9,254.9 L769.9,253.9 L770.8,252.8 L771.7,251.8 L771.8,251.7 L772.8,250.7 L773.7,249.6 L774.7,248.5 L775.7,247.4 L776.6,246.4 L777.6,245.3 L778.0,244.8 L778.6,244.2 L779.5,243.1 L780.5,242.0 L781.5,240.9 L782.4,239.8 L783.4,238.7 L784.2,237.7 L784.4,237.5 L785.3,236.4 L786.3,235.3 L787.3,234.2 L788.2,233.1 L789.2,231.9 L790.1,230.8 L790.5,230.4 L791.1,229.6 L792.1,228.5 L793.0,227.4 L794.0,226.2 L795.0,225.1 L795.9,223.9 L796.8,222.9 L796.9,222.7 L797.9,221.6 L798.8,220.4 L799.8,219.3 L800.8,218.1 L801.7,216.9 L802.7,215.7 L803.0,215.4 L803.7,214.6 L804.6,213.4 L805.6,212.2 L806.6,211.0 L807.5,209.8 L808.5,208.6 L809.3,207.7 L809.5,207.4 L810.4,206.2 L811.4,205.0 L812.4,203.8 L813.3,202.6 L814.3,201.4 L815.3,200.2 L815.5,199.9 L816.2,199.0 L817.2,197.8 L818.1,196.6 L819.1,195.4 L820.1,194.2 L821.0,193.0 L821.8,192.1 L822.0,191.8 L823.0,190.5 L823.9,189.3 L824.9,188.1 L825.9,186.9 L826.8,185.7 L827.8,184.4 L828.0,184.2 L828.8,183.2 L829.7,182.0 L830.7,180.8 L831.7,179.6 L832.6,178.3 L833.6,177.1 L834.3,176.3 L834.6,175.9 L835.5,174.7 L836.5,173.5 L837.5,172.3 L838.4,171.1 L839.4,169.8 L840.4,168.6 L840.5,168.4 L841.3,167.4 L842.3,166.2 L843.2,165.0 L844.2,163.8 L845.2,162.7 L846.1,161.5 L846.8,160.7 L847.1,160.3 L848.1,159.1 L849.0,157.9 L850.0,156.8 L851.0,155.6 L851.9,154.4 L852.9,153.3 L853.0,153.2 L853.9,152.2 L854.8,151.0 L855.8,149.9 L856.8,148.8 L857.7,147.7 L858.7,146.5 L859.3,145.9 L859.7,145.5 L860.6,144.4 L861.6,143.3 L862.6,142.2 L863.5,141.2 L864.5,140.1 L865.5,139.1 L865.5,139.0 L866.4,138.1 L867.4,137.1 L868.3,136.1 L869.3,135.1 L870.3,134.1 L871.2,133.2 L871.8,132.7 L872.2,132.3 L873.2,131.4 L874.1,130.5 L875.1,129.6 L876.1,128.8 L877.0,127.9 L878.0,127.0 L879.0,126.2 L879.9,125.3 L880.9,124.5 L881.9,123.8 L882.8,123.1 L883.8,122.4 L884.8,121.8 L885.7,121.3 L886.7,120.8 L887.0,120.6 L887.7,120.4 L888.6,119.9 L889.6,119.5 L890.6,119.1 L891.5,118.7 L892.5,118.4 L893.5,118.3 L894.4,118.2 L894.7,118.2 L895.4,118.2 L896.3,118.3 L897.3,118.6 L898.3,118.9 L899.2,119.2 L899.4,119.3 L900.2,119.7 L901.2,120.4 L902.1,121.3 L903.1,122.3 L904.1,123.3 L904.2,123.5 L905.0,124.5 L906.0,125.8 L907.0,127.3 L907.9,129.1 L908.0,129.2 L908.9,131.0 L909.9,133.2 L910.8,135.6 L911.8,138.3 L912.8,141.2 L913.7,144.4 L913.8,144.5 L914.7,147.9 L915.7,152.0 L916.6,156.6 L917.6,161.7 L917.6,161.7 L918.6,167.5 L919.5,174.4 L920.5,182.7 L920.5,183.0 L921.4,197.1 L922.3,210.0 L922.4,210.9 L923.3,219.1 L923.4,219.7 L924.3,234.0 L925.3,252.2 L926.3,271.7 L926.9,284.2 L927.2,290.1 L928.2,308.3 L928.5,312.4 L929.2,321.7 L929.7,327.7 L930.1,331.0 L931.1,337.2 L931.3,337.9 L932.1,340.3 L933.0,342.3 L933.6,343.1 L934.0,343.6 L935.0,344.6 L935.9,345.3 L936.4,345.6 L936.9,345.9 L937.9,346.4 L938.8,346.8 L939.8,347.2 L940.8,347.6 L941.7,348.0 L942.7,348.3 L943.7,348.7 L944.6,348.9 L945.6,349.2 L946.5,349.5 L947.5,349.7 L948.5,349.9 L949.4,350.1 L950.4,350.2 L950.5,350.2 L951.4,350.4 L952.3,350.5 L953.3,350.6 L954.3,350.8 L955.2,350.9 L956.2,351.0 L957.2,351.1 L958.1,351.2 L959.1,351.3 L960.1,351.4 L961.0,351.4 L962.0,351.5 L963.0,351.6 L963.9,351.7 L964.9,351.8 L965.9,351.8 L966.8,351.9 L967.8,352.0 L968.4,352.0 L968.8,352.0 L969.7,352.1 L970.7,352.2 L971.7,352.3 L972.6,352.3 L973.6,352.4 L974.5,352.5 L975.5,352.5 L976.5,352.6 L977.4,352.7 L978.4,352.8 L979.4,352.8 L980.3,352.9 L981.3,353.0 L982.3,353.0 L983.2,353.1 L984.2,353.2 L985.2,353.2 L986.1,353.3 L987.1,353.3 L988.1,353.4 L989.0,353.5 L990.0,353.5 L991.0,353.6 L991.9,353.6 L992.9,353.7 L993.9,353.8 L994.8,353.8 L995.8,353.9 L996.8,353.9 L997.7,354.0 L998.7,354.0 L999.6,354.1 L1000.6,354.1 L1001.6,354.1 L1002.5,354.2 L1003.5,354.2 L1004.5,354.3 L1005.4,354.3 L1006.4,354.4 L1007.4,354.4 L1008.3,354.4 L1009.3,354.5 L1010.3,354.5 L1011.2,354.5 L1012.2,354.5 L1013.2,354.6" stroke="#1464dc" stroke-width="1.9" fill="none" stroke-linejoin="round"/>
<path d="M628.0,355.7 L628.9,355.4 L629.9,355.2 L630.9,354.9 L631.8,354.6 L632.8,354.4 L633.7,354.1 L634.2,353.9 L634.7,353.8 L635.7,353.5 L636.6,353.2 L637.6,352.9 L638.6,352.5 L639.5,352.2 L640.5,351.9 L640.5,351.9 L641.5,351.6 L642.4,351.2 L643.4,350.9 L644.4,350.5 L645.3,350.2 L646.3,349.8 L646.7,349.6 L647.3,349.4 L648.2,349.1 L649.2,348.7 L650.2,348.3 L651.1,347.9 L652.1,347.5 L653.0,347.1 L653.1,347.1 L654.0,346.7 L655.0,346.3 L656.0,345.9 L656.9,345.4 L657.9,345.0 L658.9,344.6 L659.2,344.4 L659.8,344.1 L660.8,343.7 L661.7,343.2 L662.7,342.8 L663.7,342.3 L664.6,341.8 L665.5,341.4 L665.6,341.4 L666.6,340.9 L667.5,340.4 L668.5,339.9 L669.5,339.4 L670.4,338.9 L671.4,338.4 L671.7,338.2 L672.4,337.9 L673.3,337.4 L674.3,336.8 L675.3,336.3 L676.2,335.8 L677.2,335.2 L678.0,334.8 L678.2,334.7 L679.1,334.1 L680.1,333.5 L681.1,333.0 L682.0,332.4 L683.0,331.8 L684.0,331.2 L684.2,331.1 L684.9,330.6 L685.9,330.0 L686.8,329.4 L687.8,328.8 L688.8,328.2 L689.7,327.6 L690.5,327.1 L690.7,326.9 L691.7,326.3 L692.6,325.6 L693.6,325.0 L694.6,324.3 L695.5,323.7 L696.5,323.0 L696.7,322.9 L697.5,322.3 L698.4,321.7 L699.4,321.0 L700.4,320.3 L701.3,319.6 L702.3,318.9 L703.0,318.4 L703.3,318.2 L704.2,317.4 L705.2,316.7 L706.2,316.0 L707.1,315.2 L708.1,314.5 L709.1,313.8 L709.2,313.6 L710.0,313.0 L711.0,312.2 L711.9,311.5 L712.9,310.7 L713.9,309.9 L714.8,309.1 L715.5,308.6 L715.8,308.4 L716.8,307.6 L717.7,306.8 L718.7,306.0 L719.7,305.1 L720.6,304.3 L721.6,303.5 L721.7,303.4 L722.6,302.7 L723.5,301.8 L724.5,301.0 L725.5,300.2 L726.4,299.3 L727.4,298.4 L728.0,297.9 L728.4,297.6 L729.3,296.7 L730.3,295.8 L731.3,295.0 L732.2,294.1 L733.2,293.2 L734.2,292.3 L734.2,292.2 L735.1,291.4 L736.1,290.5 L737.1,289.6 L738.0,288.7 L739.0,287.7 L739.9,286.8 L740.5,286.3 L740.9,285.9 L741.9,285.0 L742.8,284.0 L743.8,283.1 L744.8,282.1 L745.7,281.2 L746.7,280.2 L746.7,280.2 L747.7,279.2 L748.6,278.3 L749.6,277.3 L750.6,276.3 L751.5,275.3 L752.5,274.4 L753.0,273.8 L753.5,273.4 L754.4,272.4 L755.4,271.4 L756.4,270.4 L757.3,269.3 L758.3,268.3 L759.2,267.3 L759.3,267.3 L760.2,266.3 L761.2,265.3 L762.2,264.2 L763.1,263.2 L764.1,262.2 L765.0,261.1 L765.5,260.6 L766.0,260.1 L767.0,259.0 L767.9,258.0 L768.9,256.9 L769.9,255.8 L770.8,254.8 L771.7,253.8 L771.8,253.7 L772.8,252.6 L773.7,251.5 L774.7,250.4 L775.7,249.4 L776.6,248.3 L777.6,247.2 L778.0,246.7 L778.6,246.1 L779.5,245.0 L780.5,243.9 L781.5,242.7 L782.4,241.6 L783.4,240.5 L784.2,239.5 L784.4,239.4 L785.3,238.3 L786.3,237.1 L787.3,236.0 L788.2,234.9 L789.2,233.7 L790.1,232.6 L790.5,232.2 L791.1,231.4 L792.1,230.3 L793.0,229.1 L794.0,228.0 L795.0,226.8 L795.9,225.6 L796.8,224.7 L796.9,224.5 L797.9,223.3 L798.8,222.1 L799.8,221.0 L800.8,219.8 L801.7,218.6 L802.7,217.4 L803.0,217.0 L803.7,216.2 L804.6,215.0 L805.6,213.8 L806.6,212.6 L807.5,211.4 L808.5,210.2 L809.3,209.3 L809.5,209.0 L810.4,207.8 L811.4,206.6 L812.4,205.4 L813.3,204.2 L814.3,203.0 L815.3,201.8 L815.5,201.4 L816.2,200.5 L817.2,199.3 L818.1,198.1 L819.1,196.9 L820.1,195.6 L821.0,194.4 L821.8,193.5 L822.0,193.2 L823.0,191.9 L823.9,190.7 L824.9,189.5 L825.9,188.2 L826.8,187.0 L827.8,185.8 L828.0,185.5 L828.8,184.5 L829.7,183.3 L830.7,182.1 L831.7,180.8 L832.6,179.6 L833.6,178.4 L834.3,177.5 L834.6,177.1 L835.5,175.9 L836.5,174.7 L837.5,173.4 L838.4,172.2 L839.4,171.0 L840.4,169.8 L840.5,169.6 L841.3,168.6 L842.3,167.3 L843.2,166.1 L844.2,164.9 L845.2,163.7 L846.1,162.5 L846.8,161.7 L847.1,161.3 L848.1,160.1 L849.0,159.0 L850.0,157.8 L851.0,156.6 L851.9,155.4 L852.9,154.3 L853.0,154.2 L853.9,153.1 L854.8,152.0 L855.8,150.9 L856.8,149.8 L857.7,148.6 L858.7,147.5 L859.3,146.9 L859.7,146.5 L860.6,145.4 L861.6,144.3 L862.6,143.3 L863.5,142.2 L864.5,141.2 L865.5,140.2 L865.5,140.2 L866.4,139.2 L867.4,138.3 L868.3,137.3 L869.3,136.3 L870.3,135.4 L871.2,134.6 L871.8,134.1 L872.2,133.7 L873.2,132.9 L874.1,132.1 L875.1,131.2 L876.1,130.4 L877.0,129.6 L878.0,128.8 L879.0,128.1 L879.9,127.3 L880.9,126.7 L881.9,126.1 L882.8,125.5 L883.8,125.0 L884.8,124.6 L885.1,124.5 L885.7,124.2 L886.7,123.9 L887.7,123.6 L888.6,123.3 L889.6,123.0 L890.6,122.8 L891.5,122.6 L892.5,122.6 L892.7,122.6 L893.5,122.6 L894.4,122.8 L895.4,123.1 L896.3,123.5 L897.3,124.0 L897.5,124.1 L898.3,124.6 L899.2,125.6 L900.2,126.8 L901.2,128.1 L901.3,128.3 L902.1,129.4 L903.1,131.0 L904.1,132.8 L904.2,133.1 L905.0,134.8 L906.0,137.0 L907.0,139.4 L907.9,142.1 L908.9,144.9 L909.9,148.1 L909.9,148.3 L910.8,151.6 L911.8,155.7 L912.8,160.3 L913.7,165.3 L913.8,165.5 L914.7,170.9 L915.7,177.2 L916.6,184.6 L916.6,184.7 L917.6,195.6 L918.6,207.0 L919.0,210.0 L919.5,211.4 L919.5,211.5 L920.5,228.8 L921.4,259.5 L922.3,284.2 L922.4,286.1 L923.4,304.7 L923.9,312.4 L924.3,319.0 L925.1,327.7 L925.3,329.1 L926.3,336.2 L926.9,339.2 L927.2,340.1 L928.2,342.4 L929.2,343.9 L929.5,344.3 L930.1,345.1 L931.1,346.0 L932.1,346.6 L932.6,346.9 L933.0,347.1 L934.0,347.5 L935.0,347.9 L935.9,348.2 L936.9,348.5 L937.9,348.8 L938.8,349.1 L939.8,349.3 L940.8,349.5 L941.7,349.8 L942.7,349.9 L943.7,350.1 L944.6,350.3 L945.6,350.4 L946.5,350.6 L947.5,350.7 L947.9,350.7 L948.5,350.8 L949.4,350.9 L950.4,351.0 L951.4,351.1 L952.3,351.2 L953.3,351.3 L954.3,351.4 L955.2,351.4 L956.2,351.5 L957.2,351.6 L958.1,351.6 L959.1,351.7 L960.1,351.8 L961.0,351.8 L962.0,351.9 L963.0,351.9 L963.9,352.0 L964.9,352.1 L965.9,352.1 L966.8,352.2 L967.8,352.2 L968.4,352.3 L968.8,352.3 L969.7,352.4 L970.7,352.4 L971.7,352.5 L972.6,352.5 L973.6,352.6 L974.5,352.7 L975.5,352.7 L976.5,352.8 L977.4,352.8 L978.4,352.9 L979.4,352.9 L980.3,353.0 L981.3,353.1 L982.3,353.1 L983.2,353.2 L984.2,353.2 L985.2,353.3 L986.1,353.3 L987.1,353.4 L988.1,353.4 L989.0,353.5 L990.0,353.5 L991.0,353.6 L991.9,353.6 L992.9,353.7 L993.9,353.7 L994.8,353.8 L995.8,353.8 L996.8,353.9 L997.7,353.9 L998.7,354.0 L999.6,354.0 L1000.6,354.1 L1001.6,354.1 L1002.5,354.2 L1003.5,354.2 L1004.5,354.2 L1005.4,354.3 L1006.4,354.3 L1007.4,354.4 L1008.3,354.4 L1009.3,354.4 L1010.3,354.5 L1011.2,354.5 L1012.2,354.5 L1013.2,354.6" stroke="#1e9e58" stroke-width="1.9" fill="none" stroke-linejoin="round"/>
</g>
<rect x="583" y="54" width="431.5" height="301.8" stroke="#000" stroke-width="2.1" fill="none"/>
<line x1="755.4" y1="355.8" x2="755.4" y2="349.8" stroke="#000" stroke-width="2.1" fill="none"/>
<line x1="927.8" y1="355.8" x2="927.8" y2="349.8" stroke="#000" stroke-width="2.1" fill="none"/>
<line x1="669.2" y1="355.8" x2="669.2" y2="352.3" stroke="#000" stroke-width="2.1" fill="none"/>
<line x1="841.6" y1="355.8" x2="841.6" y2="352.3" stroke="#000" stroke-width="2.1" fill="none"/>
<line x1="583" y1="129.5" x2="589" y2="129.5" stroke="#000" stroke-width="2.1" fill="none"/>
<line x1="583" y1="204.9" x2="589" y2="204.9" stroke="#000" stroke-width="2.1" fill="none"/>
<line x1="583" y1="280.3" x2="589" y2="280.3" stroke="#000" stroke-width="2.1" fill="none"/>
<line x1="583" y1="91.8" x2="586.5" y2="91.8" stroke="#000" stroke-width="2.1" fill="none"/>
<line x1="583" y1="167.2" x2="586.5" y2="167.2" stroke="#000" stroke-width="2.1" fill="none"/>
<line x1="583" y1="242.6" x2="586.5" y2="242.6" stroke="#000" stroke-width="2.1" fill="none"/>
<line x1="583" y1="318.0" x2="586.5" y2="318.0" stroke="#000" stroke-width="2.1" fill="none"/>
<text transform="translate(583 376.8)" font-family="'Liberation Sans', 'Noto Sans CJK SC', sans-serif" font-weight="bold" font-size="18.6" text-anchor="middle" fill="#000">0.0</text>
<text transform="translate(755.4 376.8)" font-family="'Liberation Sans', 'Noto Sans CJK SC', sans-serif" font-weight="bold" font-size="18.6" text-anchor="middle" fill="#000">0.2</text>
<text transform="translate(927.8 376.8)" font-family="'Liberation Sans', 'Noto Sans CJK SC', sans-serif" font-weight="bold" font-size="18.6" text-anchor="middle" fill="#000">0.4</text>
<text transform="translate(576.3 60.0)" font-family="'Liberation Sans', 'Noto Sans CJK SC', sans-serif" font-weight="bold" font-size="18.6" text-anchor="end" fill="#000">0.20</text>
<text transform="translate(576.3 135.4)" font-family="'Liberation Sans', 'Noto Sans CJK SC', sans-serif" font-weight="bold" font-size="18.6" text-anchor="end" fill="#000">0.15</text>
<text transform="translate(576.3 210.8)" font-family="'Liberation Sans', 'Noto Sans CJK SC', sans-serif" font-weight="bold" font-size="18.6" text-anchor="end" fill="#000">0.10</text>
<text transform="translate(576.3 286.2)" font-family="'Liberation Sans', 'Noto Sans CJK SC', sans-serif" font-weight="bold" font-size="18.6" text-anchor="end" fill="#000">0.05</text>
<text transform="translate(576.3 361.6)" font-family="'Liberation Sans', 'Noto Sans CJK SC', sans-serif" font-weight="bold" font-size="18.6" text-anchor="end" fill="#000">0.00</text>
<text transform="translate(729.08 408.70) scale(1.03 1)" font-family="'Liberation Sans', 'Noto Sans CJK SC', sans-serif" font-weight="bold" font-size="19.7" fill="#000">Potential</text>
<text transform="translate(813.38 408.70) scale(1.03 1)" font-family="'Liberation Sans', 'Noto Sans CJK SC', sans-serif" font-weight="bold" font-size="17.5" fill="#000" class="p">（</text>
<text transform="translate(834.70 408.70) scale(1.03 1)" font-family="'Liberation Sans', 'Noto Sans CJK SC', sans-serif" font-weight="bold" font-size="19.7" fill="#000">V</text>
<text transform="translate(850.02 408.70) scale(1.03 1)" font-family="'Liberation Sans', 'Noto Sans CJK SC', sans-serif" font-weight="bold" font-size="17.5" fill="#000" class="p">）</text>
<text transform="translate(533.00 268.19) rotate(-90) scale(1 1.03)" font-family="'Liberation Sans', 'Noto Sans CJK SC', sans-serif" font-weight="bold" font-size="19.7" fill="#000">Current</text>
<text transform="translate(533.00 196.18) rotate(-90) scale(1 1.03)" font-family="'Liberation Sans', 'Noto Sans CJK SC', sans-serif" font-weight="bold" font-size="17.5" fill="#000" class="p">（</text>
<text transform="translate(533.00 176.99) rotate(-90) scale(1 1.03)" font-family="'Liberation Sans', 'Noto Sans CJK SC', sans-serif" font-weight="bold" font-size="19.7" fill="#000">A</text>
<text transform="translate(533.00 159.75) rotate(-90) scale(1 1.03)" font-family="'Liberation Sans', 'Noto Sans CJK SC', sans-serif" font-weight="bold" font-size="17.5" fill="#000" class="p">）</text>
<line x1="602.4" y1="76.8" x2="646.4" y2="76.8" stroke="#3a3a3a" stroke-width="2"/>
<text transform="translate(650.6 83.3) scale(1.03 1)" font-family="'Liberation Sans', 'Noto Sans CJK SC', sans-serif" font-weight="bold" font-size="18.1" text-anchor="start" fill="#000">0 mg/L</text>
<line x1="602.4" y1="100.3" x2="646.4" y2="100.3" stroke="#f03232" stroke-width="2"/>
<text transform="translate(650.6 106.8) scale(1.03 1)" font-family="'Liberation Sans', 'Noto Sans CJK SC', sans-serif" font-weight="bold" font-size="18.1" text-anchor="start" fill="#000">50 mg/L</text>
<line x1="602.4" y1="123.8" x2="646.4" y2="123.8" stroke="#1464dc" stroke-width="2"/>
<text transform="translate(650.6 130.3) scale(1.03 1)" font-family="'Liberation Sans', 'Noto Sans CJK SC', sans-serif" font-weight="bold" font-size="18.1" text-anchor="start" fill="#000">125 mg/L</text>
<line x1="602.4" y1="147.3" x2="646.4" y2="147.3" stroke="#1e9e58" stroke-width="2"/>
<text transform="translate(650.6 153.8) scale(1.03 1)" font-family="'Liberation Sans', 'Noto Sans CJK SC', sans-serif" font-weight="bold" font-size="18.1" text-anchor="start" fill="#000">200 mg/L</text>
<text transform="translate(848.5 250.2)" font-family="'Liberation Serif', 'Noto Serif CJK SC', serif" font-weight="bold" font-size="20" text-anchor="middle" fill="#000">Increasing</text>
<text transform="translate(854.5 274.7)" font-family="'Liberation Serif', 'Noto Serif CJK SC', serif" font-weight="bold" font-size="20" text-anchor="middle" fill="#000">Concentration</text>
<line x1="969.7" y1="285.3" x2="812" y2="284.4" stroke="#1414f0" stroke-width="2.6"/>
<polygon points="793.9,284.3 815.4,279.2 815.4,289.6" fill="#1414f0"/>
<rect x="92" y="473.5" width="377.9" height="304.0" stroke="#000" stroke-width="2.1" fill="none"/>
<line x1="141.2" y1="777.5" x2="141.2" y2="771.5" stroke="#000" stroke-width="2.1" fill="none"/>
<line x1="239.8" y1="777.5" x2="239.8" y2="771.5" stroke="#000" stroke-width="2.1" fill="none"/>
<line x1="338.4" y1="777.5" x2="338.4" y2="771.5" stroke="#000" stroke-width="2.1" fill="none"/>
<line x1="437.0" y1="777.5" x2="437.0" y2="771.5" stroke="#000" stroke-width="2.1" fill="none"/>
<line x1="92" y1="537.5" x2="98" y2="537.5" stroke="#000" stroke-width="2.1" fill="none"/>
<line x1="92" y1="601.5" x2="98" y2="601.5" stroke="#000" stroke-width="2.1" fill="none"/>
<line x1="92" y1="665.5" x2="98" y2="665.5" stroke="#000" stroke-width="2.1" fill="none"/>
<line x1="92" y1="729.5" x2="98" y2="729.5" stroke="#000" stroke-width="2.1" fill="none"/>
<line x1="92" y1="505.5" x2="95.5" y2="505.5" stroke="#000" stroke-width="2.1" fill="none"/>
<line x1="92" y1="569.5" x2="95.5" y2="569.5" stroke="#000" stroke-width="2.1" fill="none"/>
<line x1="92" y1="633.5" x2="95.5" y2="633.5" stroke="#000" stroke-width="2.1" fill="none"/>
<line x1="92" y1="697.5" x2="95.5" y2="697.5" stroke="#000" stroke-width="2.1" fill="none"/>
<line x1="92" y1="761.5" x2="95.5" y2="761.5" stroke="#000" stroke-width="2.1" fill="none"/>
<path d="M141.2,504.2 L239.8,620.7 L338.4,717.0 L437.0,745.5" stroke="#000" stroke-width="2" fill="none"/>
<circle cx="141.2" cy="504.2" r="3.6" fill="url(#sph)"/>
<circle cx="239.8" cy="620.7" r="3.6" fill="url(#sph)"/>
<circle cx="338.4" cy="717.0" r="3.6" fill="url(#sph)"/>
<circle cx="437.0" cy="745.5" r="3.6" fill="url(#sph)"/>
<text transform="translate(141.2 799.1)" font-family="'Liberation Sans', 'Noto Sans CJK SC', sans-serif" font-weight="bold" font-size="18.6" text-anchor="middle" fill="#000">0</text>
<text transform="translate(239.8 799.1)" font-family="'Liberation Sans', 'Noto Sans CJK SC', sans-serif" font-weight="bold" font-size="18.6" text-anchor="middle" fill="#000">50</text>
<text transform="translate(338.4 799.1)" font-family="'Liberation Sans', 'Noto Sans CJK SC', sans-serif" font-weight="bold" font-size="18.6" text-anchor="middle" fill="#000">125</text>
<text transform="translate(437.0 799.1)" font-family="'Liberation Sans', 'Noto Sans CJK SC', sans-serif" font-weight="bold" font-size="18.6" text-anchor="middle" fill="#000">200</text>
<text transform="translate(85.0 479.2)" font-family="'Liberation Sans', 'Noto Sans CJK SC', sans-serif" font-weight="bold" font-size="18.6" text-anchor="end" fill="#000">3.4</text>
<text transform="translate(85.0 543.2)" font-family="'Liberation Sans', 'Noto Sans CJK SC', sans-serif" font-weight="bold" font-size="18.6" text-anchor="end" fill="#000">3.2</text>
<text transform="translate(85.0 607.2)" font-family="'Liberation Sans', 'Noto Sans CJK SC', sans-serif" font-weight="bold" font-size="18.6" text-anchor="end" fill="#000">3.0</text>
<text transform="translate(85.0 671.2)" font-family="'Liberation Sans', 'Noto Sans CJK SC', sans-serif" font-weight="bold" font-size="18.6" text-anchor="end" fill="#000">2.8</text>
<text transform="translate(85.0 735.2)" font-family="'Liberation Sans', 'Noto Sans CJK SC', sans-serif" font-weight="bold" font-size="18.6" text-anchor="end" fill="#000">2.6</text>
<text transform="translate(145.69 831.40) scale(1.03 1)" font-family="'Liberation Sans', 'Noto Sans CJK SC', sans-serif" font-weight="bold" font-size="19.6" fill="#000">HEC concentration</text>
<text transform="translate(325.88 831.40) scale(1.03 1)" font-family="'Liberation Sans', 'Noto Sans CJK SC', sans-serif" font-weight="bold" font-size="17.5" fill="#000" class="p">（</text>
<text transform="translate(346.68 831.40) scale(1.03 1)" font-family="'Liberation Sans', 'Noto Sans CJK SC', sans-serif" font-weight="bold" font-size="19.7" fill="#000">mg/L</text>
<text transform="translate(397.12 831.40) scale(1.03 1)" font-family="'Liberation Sans', 'Noto Sans CJK SC', sans-serif" font-weight="bold" font-size="17.5" fill="#000" class="p">）</text>
<text transform="translate(51.90 760.50) rotate(-90) scale(1 1.03)" font-family="'Liberation Sans', 'Noto Sans CJK SC', sans-serif" font-weight="bold" font-size="19.85" fill="#000">Absolute area value</text>
<text transform="translate(51.90 571.88) rotate(-90) scale(1 1.03)" font-family="'Liberation Sans', 'Noto Sans CJK SC', sans-serif" font-weight="bold" font-size="17.5" fill="#000" class="p">（</text>
<text transform="translate(51.90 551.90) rotate(-90) scale(1 1.03)" font-family="'Liberation Sans', 'Noto Sans CJK SC', sans-serif" font-weight="bold" font-size="19.7" fill="#000">*</text>
<text transform="translate(51.90 542.38) rotate(-90) scale(1 1.03)" font-family="'Liberation Sans', 'Noto Sans CJK SC', sans-serif" font-weight="bold" font-size="19.7" fill="#000">10</text>
<text transform="translate(43.30 521.38) rotate(-90) scale(1 1.03)" font-family="'Liberation Sans', 'Noto Sans CJK SC', sans-serif" font-weight="bold" font-size="12.6" fill="#000">-2</text>
<text transform="translate(51.90 507.75) rotate(-90) scale(1 1.03)" font-family="'Liberation Sans', 'Noto Sans CJK SC', sans-serif" font-weight="bold" font-size="17.5" fill="#000" class="p">）</text>
<rect x="593.3" y="473.3" width="378.20000000000005" height="304.09999999999997" stroke="#000" stroke-width="2.1" fill="none"/>
<line x1="642.5" y1="777.4" x2="642.5" y2="771.4" stroke="#000" stroke-width="2.1" fill="none"/>
<line x1="740.9" y1="777.4" x2="740.9" y2="771.4" stroke="#000" stroke-width="2.1" fill="none"/>
<line x1="839.3" y1="777.4" x2="839.3" y2="771.4" stroke="#000" stroke-width="2.1" fill="none"/>
<line x1="937.7" y1="777.4" x2="937.7" y2="771.4" stroke="#000" stroke-width="2.1" fill="none"/>
<line x1="593.3" y1="517.5" x2="599.3" y2="517.5" stroke="#000" stroke-width="2.1" fill="none"/>
<line x1="593.3" y1="604.1" x2="599.3" y2="604.1" stroke="#000" stroke-width="2.1" fill="none"/>
<line x1="593.3" y1="690.7" x2="599.3" y2="690.7" stroke="#000" stroke-width="2.1" fill="none"/>
<line x1="593.3" y1="560.8" x2="596.8" y2="560.8" stroke="#000" stroke-width="2.1" fill="none"/>
<line x1="593.3" y1="647.4" x2="596.8" y2="647.4" stroke="#000" stroke-width="2.1" fill="none"/>
<line x1="593.3" y1="734.1" x2="596.8" y2="734.1" stroke="#000" stroke-width="2.1" fill="none"/>
<path d="M642.5,535.1 L740.9,638.5 L839.3,714.0 L937.7,737.0" stroke="#000" stroke-width="2" fill="none"/>
<path d="M642.5,509.1 V561.1 M639.0,509.1 h7 M639.0,561.1 h7" stroke="#000" stroke-width="1.3" fill="none"/>
<circle cx="642.5" cy="535.1" r="3.6" fill="url(#sph)"/>
<path d="M740.9,627.8 V649.2 M737.4,627.8 h7 M737.4,649.2 h7" stroke="#000" stroke-width="1.3" fill="none"/>
<circle cx="740.9" cy="638.5" r="3.6" fill="url(#sph)"/>
<path d="M839.3,707.6 V720.4 M835.8,707.6 h7 M835.8,720.4 h7" stroke="#000" stroke-width="1.3" fill="none"/>
<circle cx="839.3" cy="714.0" r="3.6" fill="url(#sph)"/>
<path d="M937.7,728.5 V745.5 M934.2,728.5 h7 M934.2,745.5 h7" stroke="#000" stroke-width="1.3" fill="none"/>
<circle cx="937.7" cy="737.0" r="3.6" fill="url(#sph)"/>
<text transform="translate(642.5 798.9)" font-family="'Liberation Sans', 'Noto Sans CJK SC', sans-serif" font-weight="bold" font-size="18.6" text-anchor="middle" fill="#000">0</text>
<text transform="translate(740.9 798.9)" font-family="'Liberation Sans', 'Noto Sans CJK SC', sans-serif" font-weight="bold" font-size="18.6" text-anchor="middle" fill="#000">50</text>
<text transform="translate(839.3 798.9)" font-family="'Liberation Sans', 'Noto Sans CJK SC', sans-serif" font-weight="bold" font-size="18.6" text-anchor="middle" fill="#000">125</text>
<text transform="translate(937.7 798.9)" font-family="'Liberation Sans', 'Noto Sans CJK SC', sans-serif" font-weight="bold" font-size="18.6" text-anchor="middle" fill="#000">200</text>
<text transform="translate(585.8 523.1)" font-family="'Liberation Sans', 'Noto Sans CJK SC', sans-serif" font-weight="bold" font-size="18.6" text-anchor="end" fill="#000">0.18</text>
<text transform="translate(585.8 609.7)" font-family="'Liberation Sans', 'Noto Sans CJK SC', sans-serif" font-weight="bold" font-size="18.6" text-anchor="end" fill="#000">0.17</text>
<text transform="translate(585.8 696.3)" font-family="'Liberation Sans', 'Noto Sans CJK SC', sans-serif" font-weight="bold" font-size="18.6" text-anchor="end" fill="#000">0.16</text>
<text transform="translate(585.8 783.0)" font-family="'Liberation Sans', 'Noto Sans CJK SC', sans-serif" font-weight="bold" font-size="18.6" text-anchor="end" fill="#000">0.15</text>
<text transform="translate(647.09 831.60) scale(1.03 1)" font-family="'Liberation Sans', 'Noto Sans CJK SC', sans-serif" font-weight="bold" font-size="19.6" fill="#000">HEC concentration</text>
<text transform="translate(826.68 831.60) scale(1.03 1)" font-family="'Liberation Sans', 'Noto Sans CJK SC', sans-serif" font-weight="bold" font-size="17.5" fill="#000" class="p">（</text>
<text transform="translate(848.18 831.60) scale(1.03 1)" font-family="'Liberation Sans', 'Noto Sans CJK SC', sans-serif" font-weight="bold" font-size="19.7" fill="#000">mg/L</text>
<text transform="translate(897.92 831.60) scale(1.03 1)" font-family="'Liberation Sans', 'Noto Sans CJK SC', sans-serif" font-weight="bold" font-size="17.5" fill="#000" class="p">）</text>
<text transform="translate(542.30 750.29) rotate(-90) scale(1 1.03)" font-family="'Liberation Sans', 'Noto Sans CJK SC', sans-serif" font-weight="bold" font-size="19.87" fill="#000">Current Density</text>
<text transform="translate(542.30 603.67) rotate(-90) scale(1 1.03)" font-family="'Liberation Sans', 'Noto Sans CJK SC', sans-serif" font-weight="bold" font-size="17.5" fill="#000" class="p">（</text>
<text transform="translate(542.30 578.79) rotate(-90) scale(1 1.03)" font-family="'Liberation Sans', 'Noto Sans CJK SC', sans-serif" font-weight="bold" font-size="19.7" fill="#000">A/cm</text>
<text transform="translate(536.70 532.38) rotate(-90) scale(1 1.03)" font-family="'Liberation Sans', 'Noto Sans CJK SC', sans-serif" font-weight="bold" font-size="19.2" fill="#000">2</text>
<text transform="translate(542.30 519.45) rotate(-90) scale(1 1.03)" font-family="'Liberation Sans', 'Noto Sans CJK SC', sans-serif" font-weight="bold" font-size="17.5" fill="#000" class="p">）</text>
</svg>
</body></html>
